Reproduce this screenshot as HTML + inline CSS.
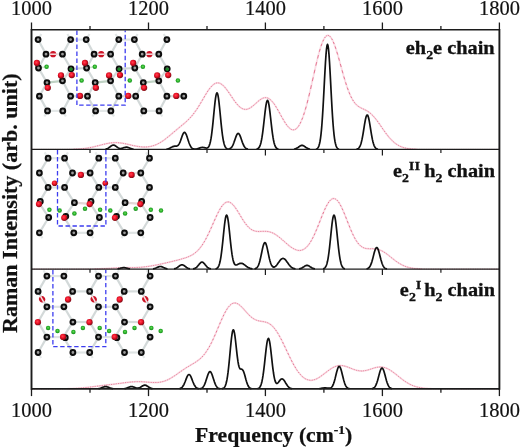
<!DOCTYPE html>
<html><head><meta charset="utf-8"><title>Raman spectra</title>
<style>html,body{margin:0;padding:0;background:#fff}svg{display:block}</style></head>
<body>
<svg width="520" height="448" viewBox="0 0 520 448">
<defs><radialGradient id="gO" cx="0.42" cy="0.4" r="0.6"><stop offset="0" stop-color="#ff4454"/><stop offset="0.5" stop-color="#ee1226"/><stop offset="1" stop-color="#7e0a16"/></radialGradient><radialGradient id="gH" cx="0.5" cy="0.45" r="0.55"><stop offset="0" stop-color="#6fdc5f"/><stop offset="0.5" stop-color="#2cb52c"/><stop offset="1" stop-color="#178a1c"/></radialGradient><filter id="bl" x="-5%" y="-5%" width="110%" height="110%"><feGaussianBlur stdDeviation="0.4"/></filter><clipPath id="c1"><rect x="33" y="31" width="160" height="88"/></clipPath><clipPath id="c2"><rect x="33" y="150" width="140" height="91"/></clipPath><clipPath id="c3"><rect x="33" y="270" width="140" height="91"/></clipPath></defs>
<rect width="520" height="448" fill="#fff"/>
<g clip-path="url(#c1)" filter="url(#bl)">
<line x1="166.9" y1="96.2" x2="183.8" y2="96.2" stroke="#d3d9d9" stroke-width="2.2"/>
<line x1="38.1" y1="39.6" x2="46.0" y2="54.2" stroke="#d3d9d9" stroke-width="2.2"/>
<line x1="70.6" y1="39.6" x2="62.5" y2="54.2" stroke="#d3d9d9" stroke-width="2.2"/>
<line x1="46.0" y1="54.2" x2="38.5" y2="68.0" stroke="#d3d9d9" stroke-width="2.2"/>
<line x1="62.5" y1="54.2" x2="71.0" y2="68.8" stroke="#d3d9d9" stroke-width="2.2"/>
<line x1="38.5" y1="68.0" x2="47.0" y2="82.6" stroke="#d3d9d9" stroke-width="2.2"/>
<line x1="71.0" y1="68.8" x2="62.5" y2="80.8" stroke="#d3d9d9" stroke-width="2.2"/>
<line x1="47.0" y1="82.6" x2="62.5" y2="80.8" stroke="#bfd2c4" stroke-width="2.2"/>
<line x1="47.0" y1="82.6" x2="39.4" y2="96.2" stroke="#d3d9d9" stroke-width="2.2"/>
<line x1="62.5" y1="80.8" x2="70.6" y2="96.2" stroke="#d3d9d9" stroke-width="2.2"/>
<line x1="39.4" y1="96.2" x2="47.5" y2="110.9" stroke="#d3d9d9" stroke-width="2.2"/>
<line x1="70.6" y1="96.2" x2="62.8" y2="110.9" stroke="#d3d9d9" stroke-width="2.2"/>
<line x1="47.5" y1="110.9" x2="62.8" y2="110.9" stroke="#e4e8e8" stroke-width="2.2"/>
<line x1="70.6" y1="39.6" x2="86.2" y2="39.6" stroke="#e0e5e5" stroke-width="2.2"/>
<line x1="71.0" y1="68.8" x2="86.6" y2="68.0" stroke="#cfd6d6" stroke-width="2.2"/>
<line x1="70.6" y1="96.2" x2="87.5" y2="96.2" stroke="#d3d9d9" stroke-width="2.2"/>
<line x1="38.1" y1="39.6" x2="41.3" y2="34.0" stroke="#e3e7e7" stroke-width="2.2"/>
<line x1="70.6" y1="39.6" x2="67.4" y2="34.0" stroke="#e3e7e7" stroke-width="2.2"/>
<line x1="47.5" y1="110.9" x2="44.4" y2="116.5" stroke="#e3e7e7" stroke-width="2.2"/>
<line x1="62.8" y1="110.9" x2="65.9" y2="116.5" stroke="#e3e7e7" stroke-width="2.2"/>
<line x1="46.0" y1="54.2" x2="62.5" y2="54.2" stroke="#e6e0e0" stroke-width="2.2"/>
<line x1="38.5" y1="68.0" x2="46.6" y2="66.8" stroke="#cfe3cf" stroke-width="1.4"/>
<line x1="86.2" y1="39.6" x2="94.1" y2="54.2" stroke="#d3d9d9" stroke-width="2.2"/>
<line x1="118.8" y1="39.6" x2="110.6" y2="54.2" stroke="#d3d9d9" stroke-width="2.2"/>
<line x1="94.1" y1="54.2" x2="86.6" y2="68.0" stroke="#d3d9d9" stroke-width="2.2"/>
<line x1="110.6" y1="54.2" x2="119.1" y2="68.8" stroke="#d3d9d9" stroke-width="2.2"/>
<line x1="86.6" y1="68.0" x2="95.2" y2="82.6" stroke="#d3d9d9" stroke-width="2.2"/>
<line x1="119.1" y1="68.8" x2="110.6" y2="80.8" stroke="#d3d9d9" stroke-width="2.2"/>
<line x1="95.2" y1="82.6" x2="110.6" y2="80.8" stroke="#bfd2c4" stroke-width="2.2"/>
<line x1="95.2" y1="82.6" x2="87.5" y2="96.2" stroke="#d3d9d9" stroke-width="2.2"/>
<line x1="110.6" y1="80.8" x2="118.8" y2="96.2" stroke="#d3d9d9" stroke-width="2.2"/>
<line x1="87.5" y1="96.2" x2="95.6" y2="110.9" stroke="#d3d9d9" stroke-width="2.2"/>
<line x1="118.8" y1="96.2" x2="110.9" y2="110.9" stroke="#d3d9d9" stroke-width="2.2"/>
<line x1="95.6" y1="110.9" x2="110.9" y2="110.9" stroke="#e4e8e8" stroke-width="2.2"/>
<line x1="118.8" y1="39.6" x2="134.4" y2="39.6" stroke="#e0e5e5" stroke-width="2.2"/>
<line x1="119.1" y1="68.8" x2="134.8" y2="68.0" stroke="#cfd6d6" stroke-width="2.2"/>
<line x1="118.8" y1="96.2" x2="135.7" y2="96.2" stroke="#d3d9d9" stroke-width="2.2"/>
<line x1="86.2" y1="39.6" x2="89.5" y2="34.0" stroke="#e3e7e7" stroke-width="2.2"/>
<line x1="118.8" y1="39.6" x2="115.5" y2="34.0" stroke="#e3e7e7" stroke-width="2.2"/>
<line x1="95.6" y1="110.9" x2="92.5" y2="116.5" stroke="#e3e7e7" stroke-width="2.2"/>
<line x1="110.9" y1="110.9" x2="114.0" y2="116.5" stroke="#e3e7e7" stroke-width="2.2"/>
<line x1="94.1" y1="54.2" x2="110.6" y2="54.2" stroke="#e6e0e0" stroke-width="2.2"/>
<line x1="86.6" y1="68.0" x2="94.8" y2="66.8" stroke="#cfe3cf" stroke-width="1.4"/>
<line x1="134.4" y1="39.6" x2="142.2" y2="54.2" stroke="#d3d9d9" stroke-width="2.2"/>
<line x1="166.9" y1="39.6" x2="158.8" y2="54.2" stroke="#d3d9d9" stroke-width="2.2"/>
<line x1="142.2" y1="54.2" x2="134.8" y2="68.0" stroke="#d3d9d9" stroke-width="2.2"/>
<line x1="158.8" y1="54.2" x2="167.2" y2="68.8" stroke="#d3d9d9" stroke-width="2.2"/>
<line x1="134.8" y1="68.0" x2="143.3" y2="82.6" stroke="#d3d9d9" stroke-width="2.2"/>
<line x1="167.2" y1="68.8" x2="158.8" y2="80.8" stroke="#d3d9d9" stroke-width="2.2"/>
<line x1="143.3" y1="82.6" x2="158.8" y2="80.8" stroke="#bfd2c4" stroke-width="2.2"/>
<line x1="143.3" y1="82.6" x2="135.7" y2="96.2" stroke="#d3d9d9" stroke-width="2.2"/>
<line x1="158.8" y1="80.8" x2="166.9" y2="96.2" stroke="#d3d9d9" stroke-width="2.2"/>
<line x1="135.7" y1="96.2" x2="143.8" y2="110.9" stroke="#d3d9d9" stroke-width="2.2"/>
<line x1="166.9" y1="96.2" x2="159.1" y2="110.9" stroke="#d3d9d9" stroke-width="2.2"/>
<line x1="143.8" y1="110.9" x2="159.1" y2="110.9" stroke="#e4e8e8" stroke-width="2.2"/>
<line x1="134.4" y1="39.6" x2="137.6" y2="34.0" stroke="#e3e7e7" stroke-width="2.2"/>
<line x1="166.9" y1="39.6" x2="163.7" y2="34.0" stroke="#e3e7e7" stroke-width="2.2"/>
<line x1="143.8" y1="110.9" x2="140.7" y2="116.5" stroke="#e3e7e7" stroke-width="2.2"/>
<line x1="159.1" y1="110.9" x2="162.2" y2="116.5" stroke="#e3e7e7" stroke-width="2.2"/>
<line x1="142.2" y1="54.2" x2="158.8" y2="54.2" stroke="#e6e0e0" stroke-width="2.2"/>
<line x1="134.8" y1="68.0" x2="142.9" y2="66.8" stroke="#cfe3cf" stroke-width="1.4"/>
<circle cx="183.8" cy="96.2" r="2.4" fill="#9a9a9a" stroke="#0c0c0c" stroke-width="2.0"/>
<circle cx="176.3" cy="95.9" r="3.15" fill="url(#gO)"/>
<circle cx="177.9" cy="80.6" r="2.25" fill="url(#gH)"/>
<circle cx="38.1" cy="39.6" r="2.4" fill="#9a9a9a" stroke="#0c0c0c" stroke-width="2.0"/>
<circle cx="70.6" cy="39.6" r="2.4" fill="#9a9a9a" stroke="#0c0c0c" stroke-width="2.0"/>
<circle cx="46.0" cy="54.2" r="2.4" fill="#9a9a9a" stroke="#0c0c0c" stroke-width="2.0"/>
<circle cx="62.5" cy="54.2" r="2.4" fill="#9a9a9a" stroke="#0c0c0c" stroke-width="2.0"/>
<circle cx="38.5" cy="68.0" r="2.4" fill="#9a9a9a" stroke="#0c0c0c" stroke-width="2.0"/>
<circle cx="71.0" cy="68.8" r="2.4" fill="#9a9a9a" stroke="#0c0c0c" stroke-width="2.0"/>
<circle cx="47.0" cy="82.6" r="2.4" fill="#9a9a9a" stroke="#0c0c0c" stroke-width="2.0"/>
<circle cx="62.5" cy="80.8" r="2.4" fill="#9a9a9a" stroke="#0c0c0c" stroke-width="2.0"/>
<circle cx="39.4" cy="96.2" r="2.4" fill="#9a9a9a" stroke="#0c0c0c" stroke-width="2.0"/>
<circle cx="70.6" cy="96.2" r="2.4" fill="#9a9a9a" stroke="#0c0c0c" stroke-width="2.0"/>
<circle cx="47.5" cy="110.9" r="2.4" fill="#9a9a9a" stroke="#0c0c0c" stroke-width="2.0"/>
<circle cx="62.8" cy="110.9" r="2.4" fill="#9a9a9a" stroke="#0c0c0c" stroke-width="2.0"/>
<circle cx="71.0" cy="69.2" r="1.7" fill="#1f8a2a"/>
<g transform="translate(53.1 54.2) rotate(0)"><circle r="3.1" fill="#cc1226"/><rect x="-3.4" y="-0.75" width="6.8" height="1.5" fill="#f6dfe1"/></g>
<circle cx="36.9" cy="63.0" r="3.15" fill="url(#gO)"/>
<circle cx="61.0" cy="75.4" r="3.15" fill="url(#gO)"/>
<circle cx="71.8" cy="75.1" r="3.15" fill="url(#gO)"/>
<circle cx="47.8" cy="87.8" r="3.15" fill="url(#gO)"/>
<circle cx="46.6" cy="66.8" r="2.25" fill="url(#gH)"/>
<circle cx="86.2" cy="39.6" r="2.4" fill="#9a9a9a" stroke="#0c0c0c" stroke-width="2.0"/>
<circle cx="118.8" cy="39.6" r="2.4" fill="#9a9a9a" stroke="#0c0c0c" stroke-width="2.0"/>
<circle cx="94.1" cy="54.2" r="2.4" fill="#9a9a9a" stroke="#0c0c0c" stroke-width="2.0"/>
<circle cx="110.6" cy="54.2" r="2.4" fill="#9a9a9a" stroke="#0c0c0c" stroke-width="2.0"/>
<circle cx="86.6" cy="68.0" r="2.4" fill="#9a9a9a" stroke="#0c0c0c" stroke-width="2.0"/>
<circle cx="119.1" cy="68.8" r="2.4" fill="#9a9a9a" stroke="#0c0c0c" stroke-width="2.0"/>
<circle cx="95.2" cy="82.6" r="2.4" fill="#9a9a9a" stroke="#0c0c0c" stroke-width="2.0"/>
<circle cx="110.6" cy="80.8" r="2.4" fill="#9a9a9a" stroke="#0c0c0c" stroke-width="2.0"/>
<circle cx="87.5" cy="96.2" r="2.4" fill="#9a9a9a" stroke="#0c0c0c" stroke-width="2.0"/>
<circle cx="118.8" cy="96.2" r="2.4" fill="#9a9a9a" stroke="#0c0c0c" stroke-width="2.0"/>
<circle cx="95.6" cy="110.9" r="2.4" fill="#9a9a9a" stroke="#0c0c0c" stroke-width="2.0"/>
<circle cx="110.9" cy="110.9" r="2.4" fill="#9a9a9a" stroke="#0c0c0c" stroke-width="2.0"/>
<circle cx="119.1" cy="69.2" r="1.7" fill="#1f8a2a"/>
<g transform="translate(101.2 54.2) rotate(0)"><circle r="3.1" fill="#cc1226"/><rect x="-3.4" y="-0.75" width="6.8" height="1.5" fill="#f6dfe1"/></g>
<circle cx="85.0" cy="63.0" r="3.15" fill="url(#gO)"/>
<circle cx="109.1" cy="75.4" r="3.15" fill="url(#gO)"/>
<circle cx="120.0" cy="75.1" r="3.15" fill="url(#gO)"/>
<circle cx="95.9" cy="87.8" r="3.15" fill="url(#gO)"/>
<circle cx="80.0" cy="95.9" r="3.15" fill="url(#gO)"/>
<circle cx="94.8" cy="66.8" r="2.25" fill="url(#gH)"/>
<circle cx="81.6" cy="80.6" r="2.25" fill="url(#gH)"/>
<circle cx="134.4" cy="39.6" r="2.4" fill="#9a9a9a" stroke="#0c0c0c" stroke-width="2.0"/>
<circle cx="166.9" cy="39.6" r="2.4" fill="#9a9a9a" stroke="#0c0c0c" stroke-width="2.0"/>
<circle cx="142.2" cy="54.2" r="2.4" fill="#9a9a9a" stroke="#0c0c0c" stroke-width="2.0"/>
<circle cx="158.8" cy="54.2" r="2.4" fill="#9a9a9a" stroke="#0c0c0c" stroke-width="2.0"/>
<circle cx="134.8" cy="68.0" r="2.4" fill="#9a9a9a" stroke="#0c0c0c" stroke-width="2.0"/>
<circle cx="167.2" cy="68.8" r="2.4" fill="#9a9a9a" stroke="#0c0c0c" stroke-width="2.0"/>
<circle cx="143.3" cy="82.6" r="2.4" fill="#9a9a9a" stroke="#0c0c0c" stroke-width="2.0"/>
<circle cx="158.8" cy="80.8" r="2.4" fill="#9a9a9a" stroke="#0c0c0c" stroke-width="2.0"/>
<circle cx="135.7" cy="96.2" r="2.4" fill="#9a9a9a" stroke="#0c0c0c" stroke-width="2.0"/>
<circle cx="166.9" cy="96.2" r="2.4" fill="#9a9a9a" stroke="#0c0c0c" stroke-width="2.0"/>
<circle cx="143.8" cy="110.9" r="2.4" fill="#9a9a9a" stroke="#0c0c0c" stroke-width="2.0"/>
<circle cx="159.1" cy="110.9" r="2.4" fill="#9a9a9a" stroke="#0c0c0c" stroke-width="2.0"/>
<circle cx="167.2" cy="69.2" r="1.7" fill="#1f8a2a"/>
<g transform="translate(149.4 54.2) rotate(0)"><circle r="3.1" fill="#cc1226"/><rect x="-3.4" y="-0.75" width="6.8" height="1.5" fill="#f6dfe1"/></g>
<circle cx="133.2" cy="63.0" r="3.15" fill="url(#gO)"/>
<circle cx="157.2" cy="75.4" r="3.15" fill="url(#gO)"/>
<circle cx="168.2" cy="75.1" r="3.15" fill="url(#gO)"/>
<circle cx="144.1" cy="87.8" r="3.15" fill="url(#gO)"/>
<circle cx="128.2" cy="95.9" r="3.15" fill="url(#gO)"/>
<circle cx="142.9" cy="66.8" r="2.25" fill="url(#gH)"/>
<circle cx="129.8" cy="80.6" r="2.25" fill="url(#gH)"/>
</g>
<path d="M76.9 30.5V105.2H125.2V30.5" fill="none" stroke="#3d3df0" stroke-width="1.3" stroke-dasharray="4.4 2.6"/>
<g clip-path="url(#c2)" filter="url(#bl)">
<line x1="48.1" y1="158.2" x2="39.4" y2="173.0" stroke="#d3d9d9" stroke-width="2.2"/>
<line x1="64.6" y1="158.2" x2="72.5" y2="173.0" stroke="#d3d9d9" stroke-width="2.2"/>
<line x1="39.4" y1="173.0" x2="48.1" y2="187.4" stroke="#d3d9d9" stroke-width="2.2"/>
<line x1="72.5" y1="173.0" x2="64.6" y2="187.4" stroke="#d3d9d9" stroke-width="2.2"/>
<line x1="48.1" y1="158.2" x2="44.7" y2="152.4" stroke="#e6eaea" stroke-width="2.2"/>
<line x1="64.6" y1="158.2" x2="68.0" y2="152.4" stroke="#e6eaea" stroke-width="2.2"/>
<line x1="48.1" y1="158.2" x2="64.6" y2="158.2" stroke="#e3e8e8" stroke-width="2.2"/>
<line x1="48.1" y1="187.4" x2="64.6" y2="187.4" stroke="#dfe4e4" stroke-width="2.2"/>
<line x1="48.1" y1="187.4" x2="39.0" y2="202.6" stroke="#d3d9d9" stroke-width="2.2"/>
<line x1="64.6" y1="187.4" x2="74.4" y2="202.6" stroke="#d3d9d9" stroke-width="2.2"/>
<line x1="39.0" y1="202.6" x2="48.7" y2="217.5" stroke="#d3d9d9" stroke-width="2.2"/>
<line x1="74.4" y1="202.6" x2="64.3" y2="217.5" stroke="#d3d9d9" stroke-width="2.2"/>
<line x1="48.7" y1="217.5" x2="39.4" y2="232.8" stroke="#d3d9d9" stroke-width="2.2"/>
<line x1="64.3" y1="217.5" x2="73.8" y2="232.8" stroke="#d3d9d9" stroke-width="2.2"/>
<line x1="73.8" y1="232.8" x2="90.1" y2="232.8" stroke="#dfe4e4" stroke-width="2.2"/>
<line x1="39.4" y1="232.8" x2="42.4" y2="238.3" stroke="#e6eaea" stroke-width="2.2"/>
<line x1="73.8" y1="232.8" x2="70.8" y2="238.3" stroke="#e6eaea" stroke-width="2.2"/>
<line x1="74.4" y1="202.6" x2="89.7" y2="203.8" stroke="#e2d6d6" stroke-width="2.2"/>
<line x1="72.5" y1="173.0" x2="90.1" y2="173.0" stroke="#e6dede" stroke-width="2.2"/>
<line x1="98.8" y1="158.2" x2="90.1" y2="173.0" stroke="#d3d9d9" stroke-width="2.2"/>
<line x1="115.3" y1="158.2" x2="123.2" y2="173.0" stroke="#d3d9d9" stroke-width="2.2"/>
<line x1="90.1" y1="173.0" x2="98.8" y2="187.4" stroke="#d3d9d9" stroke-width="2.2"/>
<line x1="123.2" y1="173.0" x2="115.3" y2="187.4" stroke="#d3d9d9" stroke-width="2.2"/>
<line x1="98.8" y1="158.2" x2="95.4" y2="152.4" stroke="#e6eaea" stroke-width="2.2"/>
<line x1="115.3" y1="158.2" x2="118.7" y2="152.4" stroke="#e6eaea" stroke-width="2.2"/>
<line x1="98.8" y1="158.2" x2="115.3" y2="158.2" stroke="#e3e8e8" stroke-width="2.2"/>
<line x1="98.8" y1="187.4" x2="115.3" y2="187.4" stroke="#dfe4e4" stroke-width="2.2"/>
<line x1="98.8" y1="187.4" x2="89.7" y2="202.6" stroke="#d3d9d9" stroke-width="2.2"/>
<line x1="115.3" y1="187.4" x2="125.1" y2="202.6" stroke="#d3d9d9" stroke-width="2.2"/>
<line x1="89.7" y1="202.6" x2="99.4" y2="217.5" stroke="#d3d9d9" stroke-width="2.2"/>
<line x1="125.1" y1="202.6" x2="115.0" y2="217.5" stroke="#d3d9d9" stroke-width="2.2"/>
<line x1="99.4" y1="217.5" x2="90.1" y2="232.8" stroke="#d3d9d9" stroke-width="2.2"/>
<line x1="115.0" y1="217.5" x2="124.5" y2="232.8" stroke="#d3d9d9" stroke-width="2.2"/>
<line x1="124.5" y1="232.8" x2="140.8" y2="232.8" stroke="#dfe4e4" stroke-width="2.2"/>
<line x1="90.1" y1="232.8" x2="93.1" y2="238.3" stroke="#e6eaea" stroke-width="2.2"/>
<line x1="124.5" y1="232.8" x2="121.5" y2="238.3" stroke="#e6eaea" stroke-width="2.2"/>
<line x1="125.1" y1="202.6" x2="140.4" y2="203.8" stroke="#e2d6d6" stroke-width="2.2"/>
<line x1="123.2" y1="173.0" x2="140.8" y2="173.0" stroke="#e6dede" stroke-width="2.2"/>
<line x1="149.5" y1="158.2" x2="140.8" y2="173.0" stroke="#d3d9d9" stroke-width="2.2"/>
<line x1="140.8" y1="173.0" x2="149.5" y2="187.4" stroke="#d3d9d9" stroke-width="2.2"/>
<line x1="149.5" y1="158.2" x2="146.1" y2="152.4" stroke="#e6eaea" stroke-width="2.2"/>
<line x1="149.5" y1="187.4" x2="140.4" y2="202.6" stroke="#d3d9d9" stroke-width="2.2"/>
<line x1="140.4" y1="202.6" x2="150.1" y2="217.5" stroke="#d3d9d9" stroke-width="2.2"/>
<line x1="150.1" y1="217.5" x2="140.8" y2="232.8" stroke="#d3d9d9" stroke-width="2.2"/>
<line x1="140.8" y1="232.8" x2="143.8" y2="238.3" stroke="#e6eaea" stroke-width="2.2"/>
<circle cx="54.6" cy="183.2" r="2.80" fill="url(#gO)"/>
<circle cx="48.1" cy="158.2" r="2.4" fill="#9a9a9a" stroke="#0c0c0c" stroke-width="2.0"/>
<circle cx="64.6" cy="158.2" r="2.4" fill="#9a9a9a" stroke="#0c0c0c" stroke-width="2.0"/>
<circle cx="39.4" cy="173.0" r="2.4" fill="#9a9a9a" stroke="#0c0c0c" stroke-width="2.0"/>
<circle cx="72.5" cy="173.0" r="2.4" fill="#9a9a9a" stroke="#0c0c0c" stroke-width="2.0"/>
<circle cx="48.1" cy="187.4" r="2.4" fill="#9a9a9a" stroke="#0c0c0c" stroke-width="2.0"/>
<circle cx="64.6" cy="187.4" r="2.4" fill="#9a9a9a" stroke="#0c0c0c" stroke-width="2.0"/>
<circle cx="74.4" cy="202.7" r="2.4" fill="#9a9a9a" stroke="#0c0c0c" stroke-width="2.0"/>
<circle cx="48.7" cy="217.5" r="2.4" fill="#9a9a9a" stroke="#0c0c0c" stroke-width="2.0"/>
<circle cx="39.4" cy="232.8" r="2.4" fill="#9a9a9a" stroke="#0c0c0c" stroke-width="2.0"/>
<circle cx="73.8" cy="232.8" r="2.4" fill="#9a9a9a" stroke="#0c0c0c" stroke-width="2.0"/>
<circle cx="40.3" cy="201.4" r="2.4" fill="#9a9a9a" stroke="#0c0c0c" stroke-width="2.0"/>
<circle cx="65.8" cy="216.3" r="2.4" fill="#9a9a9a" stroke="#0c0c0c" stroke-width="2.0"/>
<circle cx="80.9" cy="174.9" r="3.15" fill="url(#gO)"/>
<circle cx="39.0" cy="204.1" r="3.15" fill="url(#gO)"/>
<circle cx="64.3" cy="217.8" r="3.15" fill="url(#gO)"/>
<circle cx="49.4" cy="209.8" r="2.25" fill="url(#gH)"/>
<circle cx="59.6" cy="210.6" r="2.25" fill="url(#gH)"/>
<circle cx="74.4" cy="213.5" r="2.25" fill="url(#gH)"/>
<circle cx="85.0" cy="208.8" r="2.25" fill="url(#gH)"/>
<circle cx="105.3" cy="183.2" r="2.80" fill="url(#gO)"/>
<circle cx="98.8" cy="158.2" r="2.4" fill="#9a9a9a" stroke="#0c0c0c" stroke-width="2.0"/>
<circle cx="115.3" cy="158.2" r="2.4" fill="#9a9a9a" stroke="#0c0c0c" stroke-width="2.0"/>
<circle cx="90.1" cy="173.0" r="2.4" fill="#9a9a9a" stroke="#0c0c0c" stroke-width="2.0"/>
<circle cx="123.2" cy="173.0" r="2.4" fill="#9a9a9a" stroke="#0c0c0c" stroke-width="2.0"/>
<circle cx="98.8" cy="187.4" r="2.4" fill="#9a9a9a" stroke="#0c0c0c" stroke-width="2.0"/>
<circle cx="115.3" cy="187.4" r="2.4" fill="#9a9a9a" stroke="#0c0c0c" stroke-width="2.0"/>
<circle cx="125.1" cy="202.7" r="2.4" fill="#9a9a9a" stroke="#0c0c0c" stroke-width="2.0"/>
<circle cx="99.4" cy="217.5" r="2.4" fill="#9a9a9a" stroke="#0c0c0c" stroke-width="2.0"/>
<circle cx="90.1" cy="232.8" r="2.4" fill="#9a9a9a" stroke="#0c0c0c" stroke-width="2.0"/>
<circle cx="124.5" cy="232.8" r="2.4" fill="#9a9a9a" stroke="#0c0c0c" stroke-width="2.0"/>
<circle cx="91.0" cy="201.4" r="2.4" fill="#9a9a9a" stroke="#0c0c0c" stroke-width="2.0"/>
<circle cx="116.5" cy="216.3" r="2.4" fill="#9a9a9a" stroke="#0c0c0c" stroke-width="2.0"/>
<circle cx="131.6" cy="174.9" r="3.15" fill="url(#gO)"/>
<circle cx="89.7" cy="204.1" r="3.15" fill="url(#gO)"/>
<circle cx="115.0" cy="217.8" r="3.15" fill="url(#gO)"/>
<circle cx="100.1" cy="209.8" r="2.25" fill="url(#gH)"/>
<circle cx="110.3" cy="210.6" r="2.25" fill="url(#gH)"/>
<circle cx="125.1" cy="213.5" r="2.25" fill="url(#gH)"/>
<circle cx="135.7" cy="208.8" r="2.25" fill="url(#gH)"/>
<circle cx="149.5" cy="158.2" r="2.4" fill="#9a9a9a" stroke="#0c0c0c" stroke-width="2.0"/>
<circle cx="140.8" cy="173.0" r="2.4" fill="#9a9a9a" stroke="#0c0c0c" stroke-width="2.0"/>
<circle cx="149.5" cy="187.4" r="2.4" fill="#9a9a9a" stroke="#0c0c0c" stroke-width="2.0"/>
<circle cx="150.1" cy="217.5" r="2.4" fill="#9a9a9a" stroke="#0c0c0c" stroke-width="2.0"/>
<circle cx="140.8" cy="232.8" r="2.4" fill="#9a9a9a" stroke="#0c0c0c" stroke-width="2.0"/>
<circle cx="141.7" cy="201.4" r="2.4" fill="#9a9a9a" stroke="#0c0c0c" stroke-width="2.0"/>
<circle cx="140.4" cy="204.1" r="3.15" fill="url(#gO)"/>
<circle cx="150.8" cy="209.8" r="2.25" fill="url(#gH)"/>
<circle cx="161.0" cy="210.6" r="2.25" fill="url(#gH)"/>
</g>
<path d="M57.5 150.0V226.0H105.9V150.0" fill="none" stroke="#3d3df0" stroke-width="1.3" stroke-dasharray="4.4 2.6"/>
<g clip-path="url(#c3)" filter="url(#bl)">
<line x1="46.9" y1="276.1" x2="38.1" y2="291.4" stroke="#d3d9d9" stroke-width="2.2"/>
<line x1="63.9" y1="276.1" x2="72.6" y2="291.4" stroke="#d3d9d9" stroke-width="2.2"/>
<line x1="38.1" y1="291.4" x2="46.9" y2="306.8" stroke="#d3d9d9" stroke-width="2.2"/>
<line x1="72.6" y1="291.4" x2="63.9" y2="306.8" stroke="#d3d9d9" stroke-width="2.2"/>
<line x1="46.9" y1="276.1" x2="43.5" y2="270.3" stroke="#e6eaea" stroke-width="2.2"/>
<line x1="63.9" y1="276.1" x2="67.3" y2="270.3" stroke="#e6eaea" stroke-width="2.2"/>
<line x1="46.9" y1="276.1" x2="63.9" y2="276.1" stroke="#dfe4e4" stroke-width="2.2"/>
<line x1="46.9" y1="306.8" x2="63.9" y2="306.8" stroke="#dfe4e4" stroke-width="2.2"/>
<line x1="46.9" y1="337.1" x2="63.9" y2="337.1" stroke="#dfe4e4" stroke-width="2.2"/>
<line x1="72.6" y1="291.4" x2="89.7" y2="291.4" stroke="#d6dcdc" stroke-width="2.2"/>
<line x1="46.9" y1="306.8" x2="38.1" y2="321.9" stroke="#d3d9d9" stroke-width="2.2"/>
<line x1="63.9" y1="306.8" x2="72.9" y2="321.9" stroke="#d3d9d9" stroke-width="2.2"/>
<line x1="38.1" y1="321.9" x2="46.9" y2="337.1" stroke="#d3d9d9" stroke-width="2.2"/>
<line x1="72.9" y1="321.9" x2="63.3" y2="337.1" stroke="#d3d9d9" stroke-width="2.2"/>
<line x1="46.9" y1="337.1" x2="38.1" y2="352.5" stroke="#d3d9d9" stroke-width="2.2"/>
<line x1="63.3" y1="337.1" x2="72.9" y2="352.5" stroke="#d3d9d9" stroke-width="2.2"/>
<line x1="72.9" y1="352.5" x2="89.7" y2="352.5" stroke="#dfe4e4" stroke-width="2.2"/>
<line x1="72.9" y1="321.9" x2="89.7" y2="322.2" stroke="#d6dcdc" stroke-width="2.2"/>
<line x1="38.1" y1="352.5" x2="41.1" y2="358.0" stroke="#e6eaea" stroke-width="2.2"/>
<line x1="72.9" y1="352.5" x2="69.9" y2="358.0" stroke="#e6eaea" stroke-width="2.2"/>
<line x1="98.5" y1="276.1" x2="89.7" y2="291.4" stroke="#d3d9d9" stroke-width="2.2"/>
<line x1="115.5" y1="276.1" x2="124.2" y2="291.4" stroke="#d3d9d9" stroke-width="2.2"/>
<line x1="89.7" y1="291.4" x2="98.5" y2="306.8" stroke="#d3d9d9" stroke-width="2.2"/>
<line x1="124.2" y1="291.4" x2="115.5" y2="306.8" stroke="#d3d9d9" stroke-width="2.2"/>
<line x1="98.5" y1="276.1" x2="95.1" y2="270.3" stroke="#e6eaea" stroke-width="2.2"/>
<line x1="115.5" y1="276.1" x2="118.9" y2="270.3" stroke="#e6eaea" stroke-width="2.2"/>
<line x1="98.5" y1="276.1" x2="115.5" y2="276.1" stroke="#dfe4e4" stroke-width="2.2"/>
<line x1="98.5" y1="306.8" x2="115.5" y2="306.8" stroke="#dfe4e4" stroke-width="2.2"/>
<line x1="98.5" y1="337.1" x2="115.5" y2="337.1" stroke="#dfe4e4" stroke-width="2.2"/>
<line x1="124.2" y1="291.4" x2="141.3" y2="291.4" stroke="#d6dcdc" stroke-width="2.2"/>
<line x1="98.5" y1="306.8" x2="89.7" y2="321.9" stroke="#d3d9d9" stroke-width="2.2"/>
<line x1="115.5" y1="306.8" x2="124.5" y2="321.9" stroke="#d3d9d9" stroke-width="2.2"/>
<line x1="89.7" y1="321.9" x2="98.5" y2="337.1" stroke="#d3d9d9" stroke-width="2.2"/>
<line x1="124.5" y1="321.9" x2="114.9" y2="337.1" stroke="#d3d9d9" stroke-width="2.2"/>
<line x1="98.5" y1="337.1" x2="89.7" y2="352.5" stroke="#d3d9d9" stroke-width="2.2"/>
<line x1="114.9" y1="337.1" x2="124.5" y2="352.5" stroke="#d3d9d9" stroke-width="2.2"/>
<line x1="124.5" y1="352.5" x2="141.3" y2="352.5" stroke="#dfe4e4" stroke-width="2.2"/>
<line x1="124.5" y1="321.9" x2="141.3" y2="322.2" stroke="#d6dcdc" stroke-width="2.2"/>
<line x1="89.7" y1="352.5" x2="92.7" y2="358.0" stroke="#e6eaea" stroke-width="2.2"/>
<line x1="124.5" y1="352.5" x2="121.5" y2="358.0" stroke="#e6eaea" stroke-width="2.2"/>
<line x1="150.1" y1="276.1" x2="141.3" y2="291.4" stroke="#d3d9d9" stroke-width="2.2"/>
<line x1="141.3" y1="291.4" x2="150.1" y2="306.8" stroke="#d3d9d9" stroke-width="2.2"/>
<line x1="150.1" y1="276.1" x2="146.7" y2="270.3" stroke="#e6eaea" stroke-width="2.2"/>
<line x1="150.1" y1="306.8" x2="141.3" y2="321.9" stroke="#d3d9d9" stroke-width="2.2"/>
<line x1="141.3" y1="321.9" x2="150.1" y2="337.1" stroke="#d3d9d9" stroke-width="2.2"/>
<line x1="150.1" y1="337.1" x2="141.3" y2="352.5" stroke="#d3d9d9" stroke-width="2.2"/>
<line x1="141.3" y1="352.5" x2="144.3" y2="358.0" stroke="#e6eaea" stroke-width="2.2"/>
<circle cx="46.9" cy="276.1" r="2.4" fill="#9a9a9a" stroke="#0c0c0c" stroke-width="2.0"/>
<circle cx="63.9" cy="276.1" r="2.4" fill="#9a9a9a" stroke="#0c0c0c" stroke-width="2.0"/>
<circle cx="38.1" cy="291.4" r="2.4" fill="#9a9a9a" stroke="#0c0c0c" stroke-width="2.0"/>
<circle cx="72.6" cy="291.4" r="2.4" fill="#9a9a9a" stroke="#0c0c0c" stroke-width="2.0"/>
<circle cx="46.9" cy="306.8" r="2.4" fill="#9a9a9a" stroke="#0c0c0c" stroke-width="2.0"/>
<circle cx="63.9" cy="306.8" r="2.4" fill="#9a9a9a" stroke="#0c0c0c" stroke-width="2.0"/>
<circle cx="72.9" cy="322.1" r="2.4" fill="#9a9a9a" stroke="#0c0c0c" stroke-width="2.0"/>
<circle cx="46.9" cy="337.1" r="2.4" fill="#9a9a9a" stroke="#0c0c0c" stroke-width="2.0"/>
<circle cx="38.1" cy="352.5" r="2.4" fill="#9a9a9a" stroke="#0c0c0c" stroke-width="2.0"/>
<circle cx="72.9" cy="352.5" r="2.4" fill="#9a9a9a" stroke="#0c0c0c" stroke-width="2.0"/>
<circle cx="65.3" cy="337.7" r="2.4" fill="#9a9a9a" stroke="#0c0c0c" stroke-width="2.0"/>
<g transform="translate(42.1 299.2) rotate(61)"><circle r="3.1" fill="#cc1226"/><rect x="-3.4" y="-0.75" width="6.8" height="1.5" fill="#f6dfe1"/></g>
<circle cx="68.1" cy="299.5" r="3.15" fill="url(#gO)"/>
<circle cx="37.9" cy="322.2" r="3.15" fill="url(#gO)"/>
<circle cx="63.1" cy="336.9" r="3.15" fill="url(#gO)"/>
<circle cx="48.1" cy="327.9" r="2.25" fill="url(#gH)"/>
<circle cx="57.5" cy="331.0" r="2.25" fill="url(#gH)"/>
<circle cx="73.4" cy="331.9" r="2.25" fill="url(#gH)"/>
<circle cx="82.9" cy="327.9" r="2.25" fill="url(#gH)"/>
<circle cx="98.5" cy="276.1" r="2.4" fill="#9a9a9a" stroke="#0c0c0c" stroke-width="2.0"/>
<circle cx="115.5" cy="276.1" r="2.4" fill="#9a9a9a" stroke="#0c0c0c" stroke-width="2.0"/>
<circle cx="89.7" cy="291.4" r="2.4" fill="#9a9a9a" stroke="#0c0c0c" stroke-width="2.0"/>
<circle cx="124.2" cy="291.4" r="2.4" fill="#9a9a9a" stroke="#0c0c0c" stroke-width="2.0"/>
<circle cx="98.5" cy="306.8" r="2.4" fill="#9a9a9a" stroke="#0c0c0c" stroke-width="2.0"/>
<circle cx="115.5" cy="306.8" r="2.4" fill="#9a9a9a" stroke="#0c0c0c" stroke-width="2.0"/>
<circle cx="124.5" cy="322.1" r="2.4" fill="#9a9a9a" stroke="#0c0c0c" stroke-width="2.0"/>
<circle cx="98.5" cy="337.1" r="2.4" fill="#9a9a9a" stroke="#0c0c0c" stroke-width="2.0"/>
<circle cx="89.7" cy="352.5" r="2.4" fill="#9a9a9a" stroke="#0c0c0c" stroke-width="2.0"/>
<circle cx="124.5" cy="352.5" r="2.4" fill="#9a9a9a" stroke="#0c0c0c" stroke-width="2.0"/>
<circle cx="116.9" cy="337.7" r="2.4" fill="#9a9a9a" stroke="#0c0c0c" stroke-width="2.0"/>
<g transform="translate(93.7 299.2) rotate(61)"><circle r="3.1" fill="#cc1226"/><rect x="-3.4" y="-0.75" width="6.8" height="1.5" fill="#f6dfe1"/></g>
<circle cx="119.7" cy="299.5" r="3.15" fill="url(#gO)"/>
<circle cx="89.5" cy="322.2" r="3.15" fill="url(#gO)"/>
<circle cx="114.7" cy="336.9" r="3.15" fill="url(#gO)"/>
<circle cx="99.7" cy="327.9" r="2.25" fill="url(#gH)"/>
<circle cx="109.1" cy="331.0" r="2.25" fill="url(#gH)"/>
<circle cx="125.0" cy="331.9" r="2.25" fill="url(#gH)"/>
<circle cx="134.5" cy="327.9" r="2.25" fill="url(#gH)"/>
<circle cx="150.1" cy="276.1" r="2.4" fill="#9a9a9a" stroke="#0c0c0c" stroke-width="2.0"/>
<circle cx="141.3" cy="291.4" r="2.4" fill="#9a9a9a" stroke="#0c0c0c" stroke-width="2.0"/>
<circle cx="150.1" cy="306.8" r="2.4" fill="#9a9a9a" stroke="#0c0c0c" stroke-width="2.0"/>
<circle cx="150.1" cy="337.1" r="2.4" fill="#9a9a9a" stroke="#0c0c0c" stroke-width="2.0"/>
<circle cx="141.3" cy="352.5" r="2.4" fill="#9a9a9a" stroke="#0c0c0c" stroke-width="2.0"/>
<g transform="translate(145.3 299.2) rotate(61)"><circle r="3.1" fill="#cc1226"/><rect x="-3.4" y="-0.75" width="6.8" height="1.5" fill="#f6dfe1"/></g>
<circle cx="141.1" cy="322.2" r="3.15" fill="url(#gO)"/>
<circle cx="151.3" cy="327.9" r="2.25" fill="url(#gH)"/>
<circle cx="160.7" cy="331.0" r="2.25" fill="url(#gH)"/>
</g>
<path d="M52.9 270.0V346.7H105.8V270.0" fill="none" stroke="#3d3df0" stroke-width="1.3" stroke-dasharray="4.4 2.6"/>
<polyline points="73.5,149.2 74.5,149.2 75.5,149.2 76.5,149.1 77.5,149.1 78.5,149.0 79.5,148.9 80.5,148.9 81.5,148.8 82.5,148.7 83.5,148.6 84.5,148.5 85.5,148.3 86.5,148.2 87.5,148.0 88.5,147.9 89.5,147.7 90.5,147.5 91.5,147.3 92.5,147.1 93.5,146.9 94.5,146.6 95.5,146.4 96.5,146.2 97.5,145.9 98.5,145.6 99.5,145.4 100.5,145.1 101.5,144.9 102.5,144.6 103.5,144.3 104.5,144.1 105.5,143.9 106.5,143.7 107.5,143.5 108.5,143.3 109.5,143.1 110.5,143.0 111.5,142.9 112.5,142.8 113.5,142.7 114.5,142.7 115.5,142.6 116.5,142.7 117.5,142.7 118.5,142.8 119.5,142.8 120.5,142.9 121.5,143.1 122.5,143.2 123.5,143.4 124.5,143.6 125.5,143.8 126.5,144.0 127.5,144.2 128.5,144.4 129.5,144.7 130.5,144.9 131.5,145.1 132.5,145.4 133.5,145.6 134.5,145.8 135.5,146.0 136.5,146.2 137.5,146.4 138.5,146.5 139.5,146.7 140.5,146.8 141.5,146.9 142.5,147.0 143.5,147.0 144.5,147.0 145.5,147.0 146.5,147.0 147.5,146.9 148.5,146.8 149.5,146.6 150.5,146.4 151.5,146.2 152.5,145.9 153.5,145.6 154.5,145.3 155.5,144.9 156.5,144.5 157.5,144.0 158.5,143.5 159.5,143.0 160.5,142.4 161.5,141.7 162.5,141.1 163.5,140.4 164.5,139.7 165.5,138.9 166.5,138.1 167.5,137.3 168.5,136.5 169.5,135.7 170.5,134.9 171.5,134.0 172.5,133.2 173.5,132.3 174.5,131.5 175.5,130.7 176.5,129.8 177.5,129.0 178.5,128.2 179.5,127.3 180.5,126.5 181.5,125.7 182.5,124.8 183.5,124.0 184.5,123.2 185.5,122.3 186.5,121.4 187.5,120.4 188.5,119.5 189.5,118.5 190.5,117.4 191.5,116.3 192.5,115.1 193.5,113.8 194.5,112.5 195.5,111.1 196.5,109.7 197.5,108.2 198.5,106.6 199.5,105.0 200.5,103.3 201.5,101.6 202.5,99.9 203.5,98.2 204.5,96.5 205.5,94.8 206.5,93.2 207.5,91.6 208.5,90.1 209.5,88.8 210.5,87.5 211.5,86.3 212.5,85.3 213.5,84.5 214.5,83.8 215.5,83.3 216.5,83.0 217.5,82.9 218.5,82.9 219.5,83.2 220.5,83.6 221.5,84.2 222.5,85.0 223.5,85.9 224.5,86.9 225.5,88.1 226.5,89.3 227.5,90.7 228.5,92.1 229.5,93.6 230.5,95.1 231.5,96.6 232.5,98.1 233.5,99.5 234.5,101.0 235.5,102.3 236.5,103.6 237.5,104.7 238.5,105.8 239.5,106.7 240.5,107.5 241.5,108.2 242.5,108.7 243.5,109.1 244.5,109.3 245.5,109.4 246.5,109.3 247.5,109.1 248.5,108.7 249.5,108.3 250.5,107.7 251.5,107.0 252.5,106.3 253.5,105.4 254.5,104.6 255.5,103.7 256.5,102.8 257.5,101.9 258.5,101.0 259.5,100.2 260.5,99.5 261.5,98.9 262.5,98.4 263.5,98.0 264.5,97.7 265.5,97.7 266.5,97.7 267.5,98.0 268.5,98.4 269.5,99.0 270.5,99.8 271.5,100.8 272.5,101.9 273.5,103.1 274.5,104.5 275.5,106.0 276.5,107.7 277.5,109.4 278.5,111.1 279.5,112.9 280.5,114.7 281.5,116.6 282.5,118.3 283.5,120.1 284.5,121.7 285.5,123.3 286.5,124.7 287.5,126.0 288.5,127.2 289.5,128.1 290.5,128.9 291.5,129.5 292.5,129.8 293.5,129.9 294.5,129.7 295.5,129.2 296.5,128.5 297.5,127.5 298.5,126.2 299.5,124.6 300.5,122.7 301.5,120.5 302.5,118.0 303.5,115.3 304.5,112.2 305.5,108.9 306.5,105.4 307.5,101.6 308.5,97.6 309.5,93.5 310.5,89.2 311.5,84.8 312.5,80.3 313.5,75.9 314.5,71.4 315.5,67.0 316.5,62.8 317.5,58.7 318.5,54.8 319.5,51.1 320.5,47.8 321.5,44.8 322.5,42.1 323.5,39.9 324.5,38.1 325.5,36.7 326.5,35.8 327.5,35.4 328.5,35.5 329.5,36.0 330.5,37.0 331.5,38.4 332.5,40.2 333.5,42.4 334.5,44.9 335.5,47.7 336.5,50.8 337.5,54.1 338.5,57.5 339.5,61.1 340.5,64.7 341.5,68.3 342.5,71.9 343.5,75.4 344.5,78.9 345.5,82.2 346.5,85.3 347.5,88.2 348.5,90.9 349.5,93.4 350.5,95.7 351.5,97.8 352.5,99.6 353.5,101.2 354.5,102.6 355.5,103.8 356.5,104.8 357.5,105.7 358.5,106.5 359.5,107.1 360.5,107.7 361.5,108.2 362.5,108.7 363.5,109.1 364.5,109.6 365.5,110.1 366.5,110.6 367.5,111.2 368.5,111.8 369.5,112.6 370.5,113.4 371.5,114.3 372.5,115.3 373.5,116.3 374.5,117.5 375.5,118.7 376.5,120.0 377.5,121.3 378.5,122.7 379.5,124.1 380.5,125.6 381.5,127.0 382.5,128.5 383.5,129.9 384.5,131.3 385.5,132.7 386.5,134.1 387.5,135.4 388.5,136.6 389.5,137.8 390.5,138.9 391.5,140.0 392.5,141.0 393.5,141.9 394.5,142.7 395.5,143.5 396.5,144.2 397.5,144.8 398.5,145.4 399.5,146.0 400.5,146.4 401.5,146.8 402.5,147.2 403.5,147.5 404.5,147.8 405.5,148.1 406.5,148.3 407.5,148.5 408.5,148.6 409.5,148.7 410.5,148.9 411.5,149.0 412.5,149.0 413.5,149.1 414.5,149.2 415.5,149.2 416.5,149.2" fill="none" stroke="#f090a8" stroke-width="1.8" opacity="0.3"/>
<path d="M32.3 149.4L33.1 149.4M34.0 149.4L34.9 149.4M35.8 149.4L36.6 149.4M37.5 149.4L38.4 149.4M39.3 149.4L40.1 149.4M41.0 149.4L41.9 149.4M42.8 149.4L43.6 149.4M44.5 149.4L45.4 149.4M46.3 149.4L47.1 149.4M48.0 149.4L48.9 149.4M49.8 149.4L50.6 149.4M51.5 149.4L52.4 149.4M53.3 149.4L54.1 149.4M55.0 149.4L55.9 149.4M56.8 149.4L57.6 149.4M58.5 149.4L59.4 149.4M60.3 149.4L61.1 149.4M62.0 149.4L62.9 149.4M63.8 149.4L64.6 149.4M65.5 149.4L66.4 149.4M67.3 149.3L68.1 149.3M69.0 149.3L69.9 149.3M70.8 149.3L71.6 149.3M72.5 149.3L73.4 149.2M74.3 149.2L75.1 149.2M76.0 149.1L76.9 149.1M77.8 149.0L78.6 149.0M79.5 148.9L80.4 148.9M81.3 148.8L82.1 148.7M83.0 148.6L83.9 148.5M84.8 148.4L85.6 148.3M86.5 148.2L87.4 148.1M88.3 147.9L89.1 147.8M90.0 147.6L90.9 147.4M91.8 147.2L92.6 147.1M93.5 146.9L94.4 146.7M95.3 146.4L96.1 146.2M97.0 146.0L97.9 145.8M98.8 145.6L99.6 145.3M100.5 145.1L101.4 144.9M102.3 144.6L103.1 144.4M104.0 144.2L104.9 144.0M105.8 143.8L106.6 143.6M107.5 143.5L108.4 143.3M109.3 143.1L110.1 143.0M111.0 142.9L111.9 142.8M112.8 142.7L113.6 142.7M114.5 142.7L115.4 142.6M116.3 142.6L117.1 142.7M118.0 142.7L118.9 142.8M119.8 142.9L120.6 143.0M121.5 143.1L122.4 143.2M123.3 143.4L124.1 143.5M125.0 143.7L125.9 143.9M126.8 144.1L127.6 144.3M128.6 144.5L129.4 144.7M130.3 144.9L131.2 145.1M132.1 145.3L132.9 145.5M133.8 145.7L134.7 145.8M135.6 146.0L136.4 146.2M137.3 146.3L138.2 146.5M139.1 146.6L139.9 146.7M140.8 146.8L141.7 146.9M142.6 147.0L143.4 147.0M144.3 147.0L145.2 147.0M146.1 147.0L146.9 146.9M147.8 146.9L148.7 146.7M149.6 146.6L150.4 146.5M151.3 146.3L152.2 146.0M153.1 145.8L153.9 145.5M154.8 145.2L155.7 144.8M156.6 144.5L157.4 144.1M158.3 143.6L159.2 143.1M160.1 142.6L160.9 142.1M161.8 141.5L162.7 141.0M163.6 140.4L164.4 139.7M165.3 139.1L166.2 138.4M167.1 137.7L167.9 137.0M168.8 136.3L169.7 135.6M170.6 134.8L171.4 134.1M172.3 133.4L173.2 132.6M174.1 131.9L174.9 131.2M175.8 130.4L176.7 129.7M177.6 128.9L178.4 128.2M179.3 127.5L180.2 126.8M181.1 126.0L181.9 125.3M182.8 124.6L183.7 123.9M184.6 123.1L185.4 122.4M186.3 121.6L187.2 120.8M188.1 119.9L188.9 119.1M189.8 118.1L190.7 117.2M191.6 116.2L192.4 115.2M193.3 114.1L194.2 113.0M195.1 111.7L195.9 110.5M196.8 109.2L197.7 107.9M198.6 106.5L199.4 105.1M200.3 103.6L201.2 102.2M202.1 100.7L202.9 99.2M203.8 97.7L204.7 96.2M205.6 94.7L206.4 93.4M207.3 91.9L208.2 90.6M209.1 89.4L209.9 88.2M210.8 87.1L211.7 86.2M212.6 85.3L213.4 84.6M214.3 83.9L215.2 83.5M216.1 83.1L216.9 82.9M217.8 82.9L218.7 83.0M219.6 83.2L220.4 83.6M221.3 84.1L222.2 84.7M223.1 85.4L223.9 86.3M224.8 87.2L225.7 88.3M226.6 89.4L227.4 90.6M228.3 91.8L229.2 93.1M230.1 94.4L230.9 95.7M231.8 97.0L232.7 98.3M233.6 99.6L234.4 100.8M235.3 102.0L236.2 103.1M237.1 104.2L237.9 105.2M238.8 106.1L239.7 106.8M240.6 107.6L241.4 108.1M242.3 108.6L243.2 109.0M244.1 109.2L244.9 109.3M245.8 109.4L246.7 109.3M247.6 109.1L248.4 108.8M249.3 108.4L250.2 107.9M251.1 107.3L251.9 106.7M252.8 106.0L253.7 105.3M254.6 104.5L255.4 103.8M256.3 103.0L257.2 102.2M258.1 101.4L258.9 100.7M259.8 100.0L260.7 99.4M261.6 98.8L262.4 98.4M263.3 98.0L264.2 97.8M265.1 97.7L265.9 97.7M266.8 97.8L267.7 98.0M268.6 98.5L269.4 99.0M270.3 99.6L271.2 100.4M272.1 101.4L272.9 102.4M273.8 103.5L274.7 104.7M275.6 106.1L276.4 107.5M277.3 109.0L278.2 110.5M279.1 112.1L279.9 113.6M280.8 115.3L281.7 116.8M282.6 118.4L283.4 119.9M284.3 121.4L285.2 122.8M286.1 124.1L286.9 125.3M287.8 126.4L288.7 127.3M289.6 128.2L290.4 128.8M291.3 129.4L292.2 129.7M293.1 129.9L293.9 129.8M294.8 129.6L295.7 129.2M296.6 128.5L297.4 127.6M298.3 126.5L299.2 125.2M300.1 123.6L300.9 121.9M301.8 119.8L302.7 117.6M303.6 115.1L304.4 112.5M305.3 109.6L306.2 106.6M307.1 103.3L307.9 100.0M308.8 96.4L309.7 92.8M310.6 89.0L311.4 85.2M312.3 81.2L313.2 77.4M314.1 73.4L314.9 69.7M315.8 65.7L316.7 62.1M317.6 58.5L318.4 55.1M319.3 51.8L320.2 48.9M321.1 46.1L321.9 43.7M322.8 41.4L323.7 39.6M324.6 38.0L325.4 36.9M326.3 36.0L327.2 35.5M328.1 35.4L328.9 35.6M329.8 36.2L330.7 37.2M331.6 38.5L332.4 40.0M333.3 41.9L334.2 44.0M335.1 46.4L335.9 48.9M336.8 51.8L337.7 54.6M338.6 57.7L339.4 60.7M340.3 63.9L341.2 67.0M342.1 70.3L342.9 73.3M343.8 76.5L344.7 79.4M345.6 82.3L346.4 85.0M347.3 87.6L348.2 90.0M349.1 92.3L349.9 94.4M350.8 96.4L351.7 98.1M352.6 99.7L353.4 101.0M354.3 102.3L355.2 103.4M356.1 104.4L356.9 105.2M357.8 106.0L358.7 106.6M359.6 107.2L360.4 107.6M361.3 108.1L362.2 108.5M363.1 108.9L363.9 109.3M364.8 109.7L365.7 110.1M366.6 110.6L367.4 111.1M368.3 111.7L369.2 112.3M370.1 113.0L370.9 113.7M371.8 114.6L372.7 115.4M373.6 116.4L374.4 117.4M375.3 118.4L376.2 119.5M377.1 120.7L377.9 121.9M378.8 123.1L379.7 124.3M380.6 125.6L381.4 126.9M382.3 128.2L383.2 129.4M384.1 130.7L384.9 131.9M385.8 133.1L386.7 134.3M387.6 135.4L388.4 136.5M389.3 137.6L390.2 138.5M391.1 139.5L391.9 140.4M392.8 141.2L393.7 142.0M394.6 142.8L395.4 143.4M396.3 144.1L397.2 144.6M398.1 145.2L398.9 145.6M399.8 146.1L400.7 146.5M401.6 146.9L402.4 147.2M403.3 147.5L404.2 147.7M405.1 147.9L405.9 148.1M406.8 148.3L407.7 148.5M408.6 148.6L409.4 148.7M410.3 148.8L411.2 148.9M412.1 149.0L412.9 149.1M413.8 149.1L414.7 149.2M415.6 149.2L416.4 149.2M417.3 149.3L418.2 149.3M419.1 149.3L419.9 149.3M420.8 149.3L421.7 149.4M422.6 149.4L423.4 149.4M424.3 149.4L425.2 149.4M426.1 149.4L426.9 149.4M427.8 149.4L428.7 149.4M429.6 149.4L430.4 149.4M431.3 149.4L432.2 149.4M433.1 149.4L433.9 149.4M434.8 149.4L435.7 149.4M436.6 149.4L437.4 149.4M438.3 149.4L439.2 149.4M440.1 149.4L440.9 149.4M441.8 149.4L442.7 149.4M443.6 149.4L444.4 149.4M445.3 149.4L446.2 149.4M447.1 149.4L447.9 149.4M448.8 149.4L449.7 149.4M450.6 149.4L451.4 149.4M452.3 149.4L453.2 149.4M454.1 149.4L454.9 149.4M455.8 149.4L456.7 149.4M457.6 149.4L458.4 149.4M459.3 149.4L460.2 149.4M461.1 149.4L461.9 149.4M462.8 149.4L463.7 149.4M464.6 149.4L465.4 149.4M466.3 149.4L467.2 149.4M468.1 149.4L468.9 149.4M469.8 149.4L470.7 149.4M471.6 149.4L472.4 149.4M473.3 149.4L474.2 149.4M475.1 149.4L475.9 149.4M476.8 149.4L477.7 149.4M478.6 149.4L479.4 149.4M480.3 149.4L481.2 149.4M482.1 149.4L482.9 149.4M483.8 149.4L484.7 149.4M485.6 149.4L486.4 149.4M487.3 149.4L488.2 149.4M489.1 149.4L489.9 149.4M490.8 149.4L491.7 149.4M492.6 149.4L493.4 149.4M494.3 149.4L495.2 149.4M496.1 149.4L496.9 149.4M497.8 149.4L498.7 149.4" fill="none" stroke="#d84468" stroke-width="1.0" opacity="0.65"/>
<path d="M105.5 149.2 106.0 149.1 106.5 148.9 107.0 148.7 107.5 148.5 108.0 148.3 108.5 148.0 109.0 147.6 109.5 147.3 110.0 146.9 110.5 146.5 111.0 146.1 111.5 145.8 112.0 145.5 112.5 145.3 113.0 145.1 113.5 145.1 114.0 145.2 114.5 145.3 115.0 145.6 115.5 145.9 116.0 146.2 116.5 146.6 117.0 147.0 117.5 147.3 118.0 147.7 118.5 148.0 119.0 148.2 119.5 148.4 120.0 148.5 120.5 148.5 121.0 148.5 121.5 148.4 122.0 148.3 122.5 148.2 123.0 148.0 123.5 147.8 124.0 147.6 124.5 147.5 125.0 147.4 125.5 147.3 126.0 147.2 126.5 147.2 127.0 147.2 127.5 147.3 128.0 147.5 128.5 147.6 129.0 147.8 129.5 148.0 130.0 148.2 130.5 148.4 131.0 148.6 131.5 148.8 132.0 148.9 132.5 149.0 133.0 149.1 133.5 149.2M166.5 149.2 167.0 149.1 167.5 149.0 168.0 148.9 168.5 148.7 169.0 148.5 169.5 148.3 170.0 148.1 170.5 147.8 171.0 147.5 171.5 147.2 172.0 147.0 172.5 146.7 173.0 146.6 173.5 146.4 174.0 146.3 174.5 146.2 175.0 146.2 175.5 146.2 176.0 146.2 176.5 146.1 177.0 146.0 177.5 145.8 178.0 145.4 178.5 144.9 179.0 144.1 179.5 143.2 180.0 142.1 180.5 140.8 181.0 139.4 181.5 137.9 182.0 136.5 182.5 135.1 183.0 134.0 183.5 133.1 184.0 132.6 184.5 132.4 185.0 132.6 185.5 133.2 186.0 134.1 186.5 135.2 187.0 136.6 187.5 138.2 188.0 139.7 188.5 141.2 189.0 142.7 189.5 144.0 190.0 145.2 190.5 146.1 191.0 147.0 191.5 147.6 192.0 148.1 192.5 148.5 193.0 148.8 193.5 148.9 194.0 149.1 194.5 149.1 195.0 149.1 195.5 149.1 196.0 149.1 196.5 149.0 197.0 148.9 197.5 148.8 198.0 148.6 198.5 148.4 199.0 148.3 199.5 148.1 200.0 147.9 200.5 147.7 201.0 147.6 201.5 147.5 202.0 147.4 202.5 147.4 203.0 147.4 203.5 147.5 204.0 147.6 204.5 147.7 205.0 147.8 205.5 147.9 206.0 148.0 206.5 148.1 207.0 148.0 207.5 147.9 208.0 147.5 208.5 147.0 209.0 146.1 209.5 144.9 210.0 143.3 210.5 141.2 211.0 138.5 211.5 135.3 212.0 131.4 212.5 127.1 213.0 122.3 213.5 117.2 214.0 112.0 214.5 107.0 215.0 102.4 215.5 98.4 216.0 95.4 216.5 93.5 217.0 92.9 217.5 93.5 218.0 95.4 218.5 98.4 219.0 102.4 219.5 107.0 220.0 112.0 220.5 117.2 221.0 122.3 221.5 127.1 222.0 131.5 222.5 135.3 223.0 138.6 223.5 141.3 224.0 143.4 224.5 145.1 225.0 146.4 225.5 147.3 226.0 148.0 226.5 148.5 227.0 148.8 227.5 149.0 228.0 149.0 228.5 149.1 229.0 149.0 229.5 148.9 230.0 148.6 230.5 148.3 231.0 147.9 231.5 147.4 232.0 146.7 232.5 145.8 233.0 144.8 233.5 143.6 234.0 142.3 234.5 140.9 235.0 139.4 235.5 138.0 236.0 136.6 236.5 135.4 237.0 134.4 237.5 133.8 238.0 133.4 238.5 133.5 239.0 133.9 239.5 134.6 240.0 135.6 240.5 136.9 241.0 138.2 241.5 139.7 242.0 141.2 242.5 142.6 243.0 143.8 243.5 145.0 244.0 146.0 244.5 146.8 245.0 147.5 245.5 148.0 246.0 148.4 246.5 148.7 247.0 148.9 247.5 149.1 248.0 149.2M256.5 149.2 257.0 149.1 257.5 148.9 258.0 148.6 258.5 148.2 259.0 147.6 259.5 146.8 260.0 145.7 260.5 144.2 261.0 142.4 261.5 140.0 262.0 137.2 262.5 133.9 263.0 130.1 263.5 125.9 264.0 121.5 264.5 117.0 265.0 112.6 265.5 108.6 266.0 105.2 266.5 102.6 267.0 101.0 267.5 100.4 268.0 101.0 268.5 102.6 269.0 105.2 269.5 108.6 270.0 112.6 270.5 117.0 271.0 121.5 271.5 125.9 272.0 130.1 272.5 133.9 273.0 137.2 273.5 140.0 274.0 142.4 274.5 144.2 275.0 145.7 275.5 146.8 276.0 147.6 276.5 148.2 277.0 148.6 277.5 148.9 278.0 149.1 278.5 149.2M294.0 149.2 294.5 149.1 295.0 149.0 295.5 148.8 296.0 148.6 296.5 148.4 297.0 148.1 297.5 147.8 298.0 147.5 298.5 147.1 299.0 146.8 299.5 146.4 300.0 146.1 300.5 145.8 301.0 145.6 301.5 145.4 302.0 145.4 302.5 145.4 303.0 145.6 303.5 145.8 304.0 146.1 304.5 146.4 305.0 146.8 305.5 147.1 306.0 147.5 306.5 147.8 307.0 148.1 307.5 148.4 308.0 148.6 308.5 148.8 309.0 149.0 309.5 149.1 310.0 149.2M316.0 149.2 316.5 149.0 317.0 148.7 317.5 148.3 318.0 147.7 318.5 146.9 319.0 145.6 319.5 143.8 320.0 141.5 320.5 138.3 321.0 134.3 321.5 129.3 322.0 123.2 322.5 116.1 323.0 108.0 323.5 99.0 324.0 89.6 324.5 79.9 325.0 70.6 325.5 62.0 326.0 54.7 326.5 49.1 327.0 45.6 327.5 44.4 328.0 45.6 328.5 49.1 329.0 54.7 329.5 62.0 330.0 70.6 330.5 79.9 331.0 89.6 331.5 99.0 332.0 108.0 332.5 116.1 333.0 123.2 333.5 129.3 334.0 134.3 334.5 138.3 335.0 141.5 335.5 143.8 336.0 145.6 336.5 146.9 337.0 147.7 337.5 148.3 338.0 148.7 338.5 149.0 339.0 149.2M356.5 149.2 357.0 149.1 357.5 148.9 358.0 148.7 358.5 148.3 359.0 147.8 359.5 147.1 360.0 146.2 360.5 145.0 361.0 143.5 361.5 141.6 362.0 139.4 362.5 136.9 363.0 134.1 363.5 131.0 364.0 127.8 364.5 124.7 365.0 121.8 365.5 119.2 366.0 117.1 366.5 115.7 367.0 115.0 367.5 115.0 368.0 115.9 368.5 117.5 369.0 119.7 369.5 122.3 370.0 125.3 370.5 128.5 371.0 131.6 371.5 134.6 372.0 137.4 372.5 139.9 373.0 142.0 373.5 143.8 374.0 145.3 374.5 146.4 375.0 147.3 375.5 147.9 376.0 148.4 376.5 148.7 377.0 149.0 377.5 149.1 378.0 149.2" fill="none" stroke="#111" stroke-width="1.7" stroke-linejoin="round"/>
<polyline points="94.5,268.9 95.5,268.9 96.5,268.9 97.5,268.9 98.5,268.8 99.5,268.8 100.5,268.8 101.5,268.7 102.5,268.7 103.5,268.6 104.5,268.6 105.5,268.6 106.5,268.5 107.5,268.5 108.5,268.4 109.5,268.4 110.5,268.3 111.5,268.3 112.5,268.2 113.5,268.1 114.5,268.1 115.5,268.1 116.5,268.0 117.5,268.0 118.5,267.9 119.5,267.9 120.5,267.9 121.5,267.8 122.5,267.8 123.5,267.8 124.5,267.8 125.5,267.7 126.5,267.7 127.5,267.7 128.5,267.7 129.5,267.7 130.5,267.7 131.5,267.7 132.5,267.6 133.5,267.6 134.5,267.6 135.5,267.6 136.5,267.5 137.5,267.5 138.5,267.4 139.5,267.4 140.5,267.3 141.5,267.2 142.5,267.1 143.5,267.0 144.5,266.9 145.5,266.8 146.5,266.7 147.5,266.5 148.5,266.4 149.5,266.2 150.5,266.1 151.5,265.9 152.5,265.7 153.5,265.5 154.5,265.4 155.5,265.2 156.5,265.0 157.5,264.8 158.5,264.6 159.5,264.3 160.5,264.1 161.5,263.9 162.5,263.7 163.5,263.5 164.5,263.2 165.5,263.0 166.5,262.8 167.5,262.5 168.5,262.3 169.5,262.1 170.5,261.8 171.5,261.6 172.5,261.3 173.5,261.1 174.5,260.8 175.5,260.6 176.5,260.3 177.5,260.1 178.5,259.8 179.5,259.6 180.5,259.3 181.5,259.0 182.5,258.7 183.5,258.4 184.5,258.1 185.5,257.8 186.5,257.5 187.5,257.1 188.5,256.7 189.5,256.3 190.5,255.8 191.5,255.3 192.5,254.7 193.5,254.1 194.5,253.4 195.5,252.6 196.5,251.7 197.5,250.8 198.5,249.7 199.5,248.6 200.5,247.4 201.5,246.0 202.5,244.6 203.5,243.0 204.5,241.4 205.5,239.6 206.5,237.7 207.5,235.7 208.5,233.7 209.5,231.6 210.5,229.4 211.5,227.1 212.5,224.9 213.5,222.6 214.5,220.3 215.5,218.1 216.5,215.9 217.5,213.8 218.5,211.8 219.5,210.0 220.5,208.3 221.5,206.7 222.5,205.4 223.5,204.3 224.5,203.3 225.5,202.6 226.5,202.2 227.5,202.0 228.5,202.0 229.5,202.2 230.5,202.7 231.5,203.4 232.5,204.3 233.5,205.3 234.5,206.6 235.5,207.9 236.5,209.4 237.5,211.0 238.5,212.6 239.5,214.2 240.5,215.9 241.5,217.6 242.5,219.2 243.5,220.7 244.5,222.2 245.5,223.6 246.5,224.9 247.5,226.1 248.5,227.2 249.5,228.1 250.5,228.9 251.5,229.6 252.5,230.1 253.5,230.6 254.5,230.9 255.5,231.2 256.5,231.3 257.5,231.4 258.5,231.5 259.5,231.5 260.5,231.4 261.5,231.4 262.5,231.3 263.5,231.3 264.5,231.3 265.5,231.3 266.5,231.4 267.5,231.5 268.5,231.6 269.5,231.9 270.5,232.1 271.5,232.5 272.5,232.9 273.5,233.4 274.5,233.9 275.5,234.5 276.5,235.2 277.5,235.9 278.5,236.6 279.5,237.4 280.5,238.3 281.5,239.1 282.5,240.0 283.5,240.9 284.5,241.7 285.5,242.6 286.5,243.5 287.5,244.3 288.5,245.2 289.5,246.0 290.5,246.7 291.5,247.4 292.5,248.1 293.5,248.7 294.5,249.2 295.5,249.6 296.5,250.0 297.5,250.3 298.5,250.4 299.5,250.5 300.5,250.4 301.5,250.2 302.5,249.9 303.5,249.4 304.5,248.8 305.5,248.1 306.5,247.2 307.5,246.1 308.5,244.9 309.5,243.5 310.5,241.9 311.5,240.2 312.5,238.4 313.5,236.4 314.5,234.3 315.5,232.0 316.5,229.7 317.5,227.3 318.5,224.8 319.5,222.3 320.5,219.7 321.5,217.2 322.5,214.7 323.5,212.3 324.5,210.0 325.5,207.9 326.5,205.9 327.5,204.1 328.5,202.5 329.5,201.1 330.5,200.1 331.5,199.3 332.5,198.7 333.5,198.5 334.5,198.6 335.5,199.0 336.5,199.7 337.5,200.7 338.5,202.0 339.5,203.5 340.5,205.2 341.5,207.2 342.5,209.3 343.5,211.6 344.5,214.0 345.5,216.5 346.5,219.0 347.5,221.6 348.5,224.1 349.5,226.6 350.5,229.1 351.5,231.4 352.5,233.6 353.5,235.7 354.5,237.7 355.5,239.5 356.5,241.1 357.5,242.5 358.5,243.8 359.5,244.9 360.5,245.8 361.5,246.6 362.5,247.2 363.5,247.7 364.5,248.1 365.5,248.4 366.5,248.6 367.5,248.7 368.5,248.7 369.5,248.8 370.5,248.8 371.5,248.7 372.5,248.7 373.5,248.8 374.5,248.8 375.5,248.9 376.5,249.1 377.5,249.3 378.5,249.5 379.5,249.8 380.5,250.2 381.5,250.7 382.5,251.2 383.5,251.8 384.5,252.4 385.5,253.1 386.5,253.8 387.5,254.6 388.5,255.3 389.5,256.1 390.5,256.9 391.5,257.7 392.5,258.5 393.5,259.3 394.5,260.1 395.5,260.9 396.5,261.6 397.5,262.3 398.5,262.9 399.5,263.5 400.5,264.1 401.5,264.7 402.5,265.2 403.5,265.6 404.5,266.1 405.5,266.4 406.5,266.8 407.5,267.1 408.5,267.4 409.5,267.6 410.5,267.8 411.5,268.0 412.5,268.2 413.5,268.3 414.5,268.5 415.5,268.6 416.5,268.7 417.5,268.7 418.5,268.8 419.5,268.9 420.5,268.9 421.5,268.9" fill="none" stroke="#f090a8" stroke-width="1.8" opacity="0.3"/>
<path d="M32.3 269.1L33.1 269.1M34.0 269.1L34.9 269.1M35.8 269.1L36.6 269.1M37.5 269.1L38.4 269.1M39.3 269.1L40.1 269.1M41.0 269.1L41.9 269.1M42.8 269.1L43.6 269.1M44.5 269.1L45.4 269.1M46.3 269.1L47.1 269.1M48.0 269.1L48.9 269.1M49.8 269.1L50.6 269.1M51.5 269.1L52.4 269.1M53.3 269.1L54.1 269.1M55.0 269.1L55.9 269.1M56.8 269.1L57.6 269.1M58.5 269.1L59.4 269.1M60.3 269.1L61.1 269.1M62.0 269.1L62.9 269.1M63.8 269.1L64.6 269.1M65.5 269.1L66.4 269.1M67.3 269.1L68.1 269.1M69.0 269.1L69.9 269.1M70.8 269.1L71.6 269.1M72.5 269.1L73.4 269.1M74.3 269.1L75.1 269.1M76.0 269.1L76.9 269.1M77.8 269.1L78.6 269.1M79.5 269.1L80.4 269.1M81.3 269.1L82.1 269.1M83.0 269.1L83.9 269.1M84.8 269.1L85.6 269.1M86.5 269.1L87.4 269.0M88.3 269.0L89.1 269.0M90.0 269.0L90.9 269.0M91.8 269.0L92.6 269.0M93.5 269.0L94.4 268.9M95.3 268.9L96.1 268.9M97.0 268.9L97.9 268.9M98.8 268.8L99.6 268.8M100.5 268.8L101.4 268.7M102.3 268.7L103.1 268.7M104.0 268.6L104.9 268.6M105.8 268.5L106.6 268.5M107.5 268.5L108.4 268.4M109.3 268.4L110.1 268.3M111.0 268.3L111.9 268.2M112.8 268.2L113.6 268.1M114.5 268.1L115.4 268.1M116.3 268.0L117.1 268.0M118.0 267.9L118.9 267.9M119.8 267.9L120.6 267.9M121.5 267.8L122.4 267.8M123.3 267.8L124.1 267.8M125.0 267.8L125.9 267.7M126.8 267.7L127.6 267.7M128.6 267.7L129.4 267.7M130.3 267.7L131.2 267.7M132.1 267.6L132.9 267.6M133.8 267.6L134.7 267.6M135.6 267.6L136.4 267.5M137.3 267.5L138.2 267.4M139.1 267.4L139.9 267.3M140.8 267.3L141.7 267.2M142.6 267.1L143.4 267.0M144.3 266.9L145.2 266.8M146.1 266.7L146.9 266.6M147.8 266.5L148.7 266.4M149.6 266.2L150.4 266.1M151.3 265.9L152.2 265.8M153.1 265.6L153.9 265.5M154.8 265.3L155.7 265.1M156.6 265.0L157.4 264.8M158.3 264.6L159.2 264.4M160.1 264.2L160.9 264.0M161.8 263.8L162.7 263.7M163.6 263.5L164.4 263.3M165.3 263.1L166.2 262.9M167.1 262.6L167.9 262.4M168.8 262.2L169.7 262.0M170.6 261.8L171.4 261.6M172.3 261.4L173.2 261.2M174.1 260.9L174.9 260.7M175.8 260.5L176.7 260.3M177.6 260.1L178.4 259.8M179.3 259.6L180.2 259.4M181.1 259.1L181.9 258.9M182.8 258.7L183.7 258.4M184.6 258.1L185.4 257.9M186.3 257.5L187.2 257.2M188.1 256.9L188.9 256.5M189.8 256.1L190.7 255.7M191.6 255.2L192.4 254.8M193.3 254.2L194.2 253.6M195.1 252.9L195.9 252.2M196.8 251.5L197.7 250.6M198.6 249.7L199.4 248.7M200.3 247.6L201.2 246.5M202.1 245.3L202.9 244.0M203.8 242.5L204.7 241.1M205.6 239.5L206.4 237.9M207.3 236.1L208.2 234.4M209.1 232.5L209.9 230.7M210.8 228.7L211.7 226.8M212.6 224.7L213.4 222.8M214.3 220.8L215.2 218.9M216.1 216.9L216.9 215.1M217.8 213.2L218.7 211.6M219.6 209.9L220.4 208.4M221.3 207.0L222.2 205.8M223.1 204.7L223.9 203.9M224.8 203.1L225.7 202.6M226.6 202.2L227.4 202.0M228.3 201.9L229.2 202.1M230.1 202.5L230.9 202.9M231.8 203.6L232.7 204.4M233.6 205.4L234.4 206.4M235.3 207.6L236.2 208.9M237.1 210.2L237.9 211.6M238.8 213.1L239.7 214.5M240.6 216.0L241.4 217.4M242.3 218.9L243.2 220.2M244.1 221.6L244.9 222.8M245.8 224.0L246.7 225.1M247.6 226.2L248.4 227.1M249.3 227.9L250.2 228.6M251.1 229.3L251.9 229.8M252.8 230.3L253.7 230.6M254.6 230.9L255.4 231.2M256.3 231.3L257.2 231.4M258.1 231.5L258.9 231.5M259.8 231.4L260.7 231.4M261.6 231.4L262.4 231.3M263.3 231.3L264.2 231.3M265.1 231.3L265.9 231.3M266.8 231.4L267.7 231.5M268.6 231.6L269.4 231.8M270.3 232.1L271.2 232.4M272.1 232.7L272.9 233.1M273.8 233.5L274.7 234.0M275.6 234.6L276.4 235.1M277.3 235.8L278.2 236.4M279.1 237.1L279.9 237.8M280.8 238.5L281.7 239.2M282.6 240.0L283.4 240.8M284.3 241.6L285.2 242.3M286.1 243.1L286.9 243.8M287.8 244.6L288.7 245.3M289.6 246.0L290.4 246.7M291.3 247.3L292.2 247.9M293.1 248.4L293.9 248.9M294.8 249.3L295.7 249.7M296.6 250.0L297.4 250.2M298.3 250.4L299.2 250.5M300.1 250.5L300.9 250.3M301.8 250.1L302.7 249.8M303.6 249.4L304.4 248.9M305.3 248.2L306.2 247.5M307.1 246.6L307.9 245.6M308.8 244.5L309.7 243.3M310.6 241.9L311.4 240.4M312.3 238.8L313.2 237.1M314.1 235.3L314.9 233.4M315.8 231.4L316.7 229.3M317.6 227.2L318.4 225.0M319.3 222.8L320.2 220.6M321.1 218.3L321.9 216.2M322.8 214.0L323.7 212.0M324.6 209.9L325.4 208.1M326.3 206.3L327.2 204.7M328.1 203.2L328.9 201.9M329.8 200.8L330.7 199.9M331.6 199.2L332.4 198.8M333.3 198.6L334.2 198.6M335.1 198.8L335.9 199.3M336.8 200.0L337.7 200.9M338.6 202.0L339.4 203.3M340.3 204.9L341.2 206.5M342.1 208.4L342.9 210.2M343.8 212.3L344.7 214.4M345.6 216.6L346.4 218.8M347.3 221.1L348.2 223.3M349.1 225.5L349.9 227.6M350.8 229.8L351.7 231.8M352.6 233.8L353.4 235.5M354.3 237.3L355.2 238.9M356.1 240.4L356.9 241.7M357.8 242.9L358.7 244.0M359.6 244.9L360.4 245.7M361.3 246.5L362.2 247.0M363.1 247.5L363.9 247.9M364.8 248.2L365.7 248.4M366.6 248.6L367.4 248.7M368.3 248.7L369.2 248.8M370.1 248.8L370.9 248.8M371.8 248.7L372.7 248.7M373.6 248.8L374.4 248.8M375.3 248.9L376.2 249.0M377.1 249.2L377.9 249.4M378.8 249.6L379.7 249.9M380.6 250.3L381.4 250.6M382.3 251.1L383.2 251.6M384.1 252.1L384.9 252.7M385.8 253.3L386.7 253.9M387.6 254.6L388.4 255.2M389.3 256.0L390.2 256.6M391.1 257.4L391.9 258.1M392.8 258.8L393.7 259.4M394.6 260.1L395.4 260.8M396.3 261.4L397.2 262.0M398.1 262.6L398.9 263.2M399.8 263.7L400.7 264.2M401.6 264.7L402.4 265.1M403.3 265.5L404.2 265.9M405.1 266.3L405.9 266.6M406.8 266.9L407.7 267.1M408.6 267.4L409.4 267.6M410.3 267.8L411.2 268.0M412.1 268.1L412.9 268.3M413.8 268.4L414.7 268.5M415.6 268.6L416.4 268.6M417.3 268.7L418.2 268.8M419.1 268.8L419.9 268.9M420.8 268.9L421.7 268.9M422.6 269.0L423.4 269.0M424.3 269.0L425.2 269.0M426.1 269.0L426.9 269.1M427.8 269.1L428.7 269.1M429.6 269.1L430.4 269.1M431.3 269.1L432.2 269.1M433.1 269.1L433.9 269.1M434.8 269.1L435.7 269.1M436.6 269.1L437.4 269.1M438.3 269.1L439.2 269.1M440.1 269.1L440.9 269.1M441.8 269.1L442.7 269.1M443.6 269.1L444.4 269.1M445.3 269.1L446.2 269.1M447.1 269.1L447.9 269.1M448.8 269.1L449.7 269.1M450.6 269.1L451.4 269.1M452.3 269.1L453.2 269.1M454.1 269.1L454.9 269.1M455.8 269.1L456.7 269.1M457.6 269.1L458.4 269.1M459.3 269.1L460.2 269.1M461.1 269.1L461.9 269.1M462.8 269.1L463.7 269.1M464.6 269.1L465.4 269.1M466.3 269.1L467.2 269.1M468.1 269.1L468.9 269.1M469.8 269.1L470.7 269.1M471.6 269.1L472.4 269.1M473.3 269.1L474.2 269.1M475.1 269.1L475.9 269.1M476.8 269.1L477.7 269.1M478.6 269.1L479.4 269.1M480.3 269.1L481.2 269.1M482.1 269.1L482.9 269.1M483.8 269.1L484.7 269.1M485.6 269.1L486.4 269.1M487.3 269.1L488.2 269.1M489.1 269.1L489.9 269.1M490.8 269.1L491.7 269.1M492.6 269.1L493.4 269.1M494.3 269.1L495.2 269.1M496.1 269.1L496.9 269.1M497.8 269.1L498.7 269.1" fill="none" stroke="#d84468" stroke-width="1.0" opacity="0.65"/>
<path d="M117.5 268.9 118.0 268.8 118.5 268.7 119.0 268.6 119.5 268.5 120.0 268.4 120.5 268.2 121.0 268.1 121.5 268.0 122.0 267.9 122.5 267.8 123.0 267.7 123.5 267.7 124.0 267.7 124.5 267.7 125.0 267.8 125.5 267.9 126.0 268.0 126.5 268.1 127.0 268.2 127.5 268.4 128.0 268.5 128.5 268.6 129.0 268.7 129.5 268.8 130.0 268.9M153.0 268.9 153.5 268.8 154.0 268.7 154.5 268.5 155.0 268.4 155.5 268.2 156.0 268.0 156.5 267.8 157.0 267.5 157.5 267.3 158.0 267.1 158.5 266.9 159.0 266.7 159.5 266.6 160.0 266.5 160.5 266.5 161.0 266.6 161.5 266.7 162.0 266.8 162.5 267.0 163.0 267.2 163.5 267.5 164.0 267.7 164.5 267.9 165.0 268.2 165.5 268.3 166.0 268.5 166.5 268.7 167.0 268.8 167.5 268.9M174.0 268.9 174.5 268.8 175.0 268.6 175.5 268.5 176.0 268.3 176.5 268.0 177.0 267.7 177.5 267.4 178.0 267.0 178.5 266.6 179.0 266.3 179.5 265.9 180.0 265.5 180.5 265.2 181.0 265.0 181.5 264.8 182.0 264.8 182.5 264.8 183.0 265.0 183.5 265.2 184.0 265.5 184.5 265.9 185.0 266.3 185.5 266.6 186.0 267.0 186.5 267.4 187.0 267.7 187.5 268.0 188.0 268.3 188.5 268.5 189.0 268.6 189.5 268.8 190.0 268.9M193.0 268.9 193.5 268.8 194.0 268.7 194.5 268.6 195.0 268.4 195.5 268.1 196.0 267.8 196.5 267.4 197.0 266.9 197.5 266.3 198.0 265.7 198.5 265.1 199.0 264.5 199.5 263.8 200.0 263.3 200.5 262.8 201.0 262.4 201.5 262.2 202.0 262.1 202.5 262.2 203.0 262.4 203.5 262.8 204.0 263.3 204.5 263.8 205.0 264.5 205.5 265.1 206.0 265.7 206.5 266.3 207.0 266.9 207.5 267.4 208.0 267.8 208.5 268.1 209.0 268.4 209.5 268.6 210.0 268.7 210.5 268.8 211.0 268.9M215.5 268.9 216.0 268.8 216.5 268.6 217.0 268.3 217.5 267.9 218.0 267.3 218.5 266.4 219.0 265.3 219.5 263.8 220.0 261.8 220.5 259.3 221.0 256.3 221.5 252.7 222.0 248.7 222.5 244.1 223.0 239.3 223.5 234.4 224.0 229.5 224.5 225.0 225.0 221.1 225.5 218.0 226.0 216.0 226.5 215.1 227.0 215.4 227.5 217.0 228.0 219.7 228.5 223.2 229.0 227.5 229.5 232.2 230.0 237.0 230.5 241.9 231.0 246.4 231.5 250.5 232.0 254.2 232.5 257.2 233.0 259.7 233.5 261.6 234.0 263.0 234.5 264.0 235.0 264.6 235.5 264.9 236.0 265.0 236.5 265.0 237.0 264.8 237.5 264.6 238.0 264.3 238.5 264.0 239.0 263.8 239.5 263.6 240.0 263.4 240.5 263.3 241.0 263.3 241.5 263.3 242.0 263.4 242.5 263.6 243.0 263.8 243.5 264.1 244.0 264.5 244.5 264.8 245.0 265.2 245.5 265.6 246.0 266.0 246.5 266.4 247.0 266.7 247.5 267.1 248.0 267.4 248.5 267.7 249.0 267.9 249.5 268.1 250.0 268.3 250.5 268.5 251.0 268.6 251.5 268.7 252.0 268.8 252.5 268.9M254.5 268.9 255.0 268.8 255.5 268.6 256.0 268.4 256.5 268.0 257.0 267.6 257.5 266.9 258.0 266.1 258.5 265.1 259.0 263.7 259.5 262.2 260.0 260.3 260.5 258.2 261.0 255.9 261.5 253.5 262.0 251.1 262.5 248.8 263.0 246.6 263.5 244.9 264.0 243.6 264.5 242.8 265.0 242.6 265.5 243.0 266.0 244.0 266.5 245.5 267.0 247.4 267.5 249.6 268.0 252.0 268.5 254.4 269.0 256.8 269.5 259.0 270.0 260.9 270.5 262.6 271.0 264.0 271.5 265.1 272.0 265.9 272.5 266.5 273.0 266.9 273.5 267.1 274.0 267.1 274.5 266.9 275.0 266.7 275.5 266.3 276.0 265.8 276.5 265.3 277.0 264.7 277.5 264.0 278.0 263.3 278.5 262.6 279.0 261.9 279.5 261.2 280.0 260.5 280.5 259.9 281.0 259.4 281.5 259.0 282.0 258.7 282.5 258.5 283.0 258.4 283.5 258.5 284.0 258.7 284.5 259.0 285.0 259.4 285.5 259.9 286.0 260.5 286.5 261.2 287.0 261.9 287.5 262.6 288.0 263.3 288.5 264.0 289.0 264.7 289.5 265.3 290.0 265.9 290.5 266.4 291.0 266.9 291.5 267.3 292.0 267.7 292.5 267.9 293.0 268.2 293.5 268.4 294.0 268.6 294.5 268.7 295.0 268.8 295.5 268.9M299.0 268.9 299.5 268.8 300.0 268.7 300.5 268.6 301.0 268.4 301.5 268.2 302.0 267.9 302.5 267.6 303.0 267.3 303.5 267.0 304.0 266.7 304.5 266.3 305.0 266.0 305.5 265.8 306.0 265.6 306.5 265.4 307.0 265.4 307.5 265.4 308.0 265.6 308.5 265.8 309.0 266.0 309.5 266.3 310.0 266.7 310.5 267.0 311.0 267.3 311.5 267.6 312.0 267.9 312.5 268.2 313.0 268.4 313.5 268.6 314.0 268.7 314.5 268.8 315.0 268.9M323.0 268.9 323.5 268.8 324.0 268.6 324.5 268.2 325.0 267.8 325.5 267.1 326.0 266.2 326.5 265.0 327.0 263.4 327.5 261.3 328.0 258.8 328.5 255.6 329.0 252.0 329.5 247.8 330.0 243.2 330.5 238.3 331.0 233.4 331.5 228.6 332.0 224.2 332.5 220.4 333.0 217.5 333.5 215.7 334.0 215.1 334.5 215.7 335.0 217.5 335.5 220.4 336.0 224.2 336.5 228.6 337.0 233.4 337.5 238.3 338.0 243.2 338.5 247.8 339.0 252.0 339.5 255.6 340.0 258.8 340.5 261.3 341.0 263.4 341.5 265.0 342.0 266.2 342.5 267.1 343.0 267.8 343.5 268.2 344.0 268.6 344.5 268.8 345.0 268.9M366.5 268.9 367.0 268.8 367.5 268.7 368.0 268.4 368.5 268.1 369.0 267.7 369.5 267.1 370.0 266.3 370.5 265.4 371.0 264.2 371.5 262.9 372.0 261.3 372.5 259.5 373.0 257.6 373.5 255.6 374.0 253.6 374.5 251.8 375.0 250.2 375.5 248.9 376.0 248.0 376.5 247.5 377.0 247.6 377.5 248.1 378.0 249.1 378.5 250.5 379.0 252.2 379.5 254.0 380.0 256.0 380.5 258.0 381.0 259.9 381.5 261.6 382.0 263.2 382.5 264.5 383.0 265.6 383.5 266.5 384.0 267.2 384.5 267.8 385.0 268.2 385.5 268.5 386.0 268.7 386.5 268.8 387.0 268.9" fill="none" stroke="#111" stroke-width="1.7" stroke-linejoin="round"/>
<polyline points="67.5,388.7 68.5,388.7 69.5,388.7 70.5,388.7 71.5,388.6 72.5,388.6 73.5,388.5 74.5,388.5 75.5,388.4 76.5,388.4 77.5,388.3 78.5,388.2 79.5,388.2 80.5,388.1 81.5,388.0 82.5,387.9 83.5,387.8 84.5,387.7 85.5,387.6 86.5,387.5 87.5,387.4 88.5,387.3 89.5,387.2 90.5,387.0 91.5,386.9 92.5,386.8 93.5,386.7 94.5,386.5 95.5,386.4 96.5,386.3 97.5,386.1 98.5,386.0 99.5,385.9 100.5,385.8 101.5,385.6 102.5,385.5 103.5,385.4 104.5,385.3 105.5,385.1 106.5,385.0 107.5,384.9 108.5,384.8 109.5,384.7 110.5,384.5 111.5,384.4 112.5,384.3 113.5,384.2 114.5,384.1 115.5,383.9 116.5,383.8 117.5,383.7 118.5,383.6 119.5,383.4 120.5,383.3 121.5,383.2 122.5,383.0 123.5,382.9 124.5,382.8 125.5,382.6 126.5,382.5 127.5,382.4 128.5,382.3 129.5,382.2 130.5,382.1 131.5,382.0 132.5,381.9 133.5,381.8 134.5,381.8 135.5,381.7 136.5,381.7 137.5,381.7 138.5,381.7 139.5,381.7 140.5,381.7 141.5,381.7 142.5,381.8 143.5,381.8 144.5,381.9 145.5,382.0 146.5,382.1 147.5,382.1 148.5,382.2 149.5,382.3 150.5,382.4 151.5,382.4 152.5,382.5 153.5,382.5 154.5,382.5 155.5,382.5 156.5,382.5 157.5,382.5 158.5,382.4 159.5,382.3 160.5,382.1 161.5,381.9 162.5,381.7 163.5,381.4 164.5,381.1 165.5,380.7 166.5,380.3 167.5,379.9 168.5,379.4 169.5,378.9 170.5,378.3 171.5,377.8 172.5,377.1 173.5,376.5 174.5,375.8 175.5,375.2 176.5,374.5 177.5,373.8 178.5,373.1 179.5,372.3 180.5,371.6 181.5,370.9 182.5,370.2 183.5,369.6 184.5,368.9 185.5,368.3 186.5,367.6 187.5,367.0 188.5,366.4 189.5,365.8 190.5,365.2 191.5,364.6 192.5,364.0 193.5,363.4 194.5,362.8 195.5,362.2 196.5,361.5 197.5,360.8 198.5,360.1 199.5,359.3 200.5,358.4 201.5,357.5 202.5,356.4 203.5,355.3 204.5,354.1 205.5,352.8 206.5,351.3 207.5,349.8 208.5,348.1 209.5,346.4 210.5,344.5 211.5,342.6 212.5,340.5 213.5,338.3 214.5,336.1 215.5,333.8 216.5,331.5 217.5,329.2 218.5,326.8 219.5,324.4 220.5,322.1 221.5,319.8 222.5,317.6 223.5,315.5 224.5,313.5 225.5,311.6 226.5,309.9 227.5,308.3 228.5,306.9 229.5,305.8 230.5,304.8 231.5,304.0 232.5,303.5 233.5,303.1 234.5,303.0 235.5,303.0 236.5,303.3 237.5,303.7 238.5,304.3 239.5,305.0 240.5,305.9 241.5,306.8 242.5,307.8 243.5,308.9 244.5,310.1 245.5,311.2 246.5,312.3 247.5,313.4 248.5,314.5 249.5,315.5 250.5,316.4 251.5,317.3 252.5,318.0 253.5,318.7 254.5,319.3 255.5,319.8 256.5,320.2 257.5,320.5 258.5,320.8 259.5,321.0 260.5,321.2 261.5,321.3 262.5,321.5 263.5,321.7 264.5,321.9 265.5,322.1 266.5,322.4 267.5,322.8 268.5,323.3 269.5,323.8 270.5,324.5 271.5,325.3 272.5,326.2 273.5,327.3 274.5,328.5 275.5,329.8 276.5,331.2 277.5,332.7 278.5,334.4 279.5,336.2 280.5,338.0 281.5,339.9 282.5,341.9 283.5,344.0 284.5,346.1 285.5,348.2 286.5,350.3 287.5,352.4 288.5,354.5 289.5,356.6 290.5,358.6 291.5,360.6 292.5,362.5 293.5,364.4 294.5,366.1 295.5,367.8 296.5,369.4 297.5,370.9 298.5,372.3 299.5,373.5 300.5,374.7 301.5,375.8 302.5,376.7 303.5,377.5 304.5,378.3 305.5,378.9 306.5,379.4 307.5,379.7 308.5,380.0 309.5,380.2 310.5,380.3 311.5,380.3 312.5,380.1 313.5,379.9 314.5,379.7 315.5,379.3 316.5,378.9 317.5,378.4 318.5,377.8 319.5,377.2 320.5,376.5 321.5,375.8 322.5,375.1 323.5,374.3 324.5,373.5 325.5,372.7 326.5,372.0 327.5,371.2 328.5,370.4 329.5,369.7 330.5,369.1 331.5,368.4 332.5,367.8 333.5,367.3 334.5,366.8 335.5,366.4 336.5,366.1 337.5,365.9 338.5,365.7 339.5,365.6 340.5,365.5 341.5,365.6 342.5,365.7 343.5,365.8 344.5,366.0 345.5,366.3 346.5,366.6 347.5,367.0 348.5,367.4 349.5,367.8 350.5,368.2 351.5,368.6 352.5,369.0 353.5,369.3 354.5,369.7 355.5,370.0 356.5,370.3 357.5,370.5 358.5,370.7 359.5,370.9 360.5,370.9 361.5,371.0 362.5,371.0 363.5,370.9 364.5,370.7 365.5,370.6 366.5,370.3 367.5,370.1 368.5,369.8 369.5,369.5 370.5,369.2 371.5,368.8 372.5,368.5 373.5,368.2 374.5,367.9 375.5,367.6 376.5,367.4 377.5,367.2 378.5,367.1 379.5,367.0 380.5,367.0 381.5,367.0 382.5,367.1 383.5,367.3 384.5,367.5 385.5,367.9 386.5,368.2 387.5,368.7 388.5,369.2 389.5,369.7 390.5,370.4 391.5,371.0 392.5,371.7 393.5,372.5 394.5,373.2 395.5,374.0 396.5,374.8 397.5,375.6 398.5,376.4 399.5,377.2 400.5,378.0 401.5,378.8 402.5,379.6 403.5,380.3 404.5,381.0 405.5,381.7 406.5,382.3 407.5,382.9 408.5,383.5 409.5,384.1 410.5,384.6 411.5,385.0 412.5,385.5 413.5,385.8 414.5,386.2 415.5,386.5 416.5,386.8 417.5,387.1 418.5,387.3 419.5,387.5 420.5,387.7 421.5,387.9 422.5,388.0 423.5,388.2 424.5,388.3 425.5,388.4 426.5,388.5 427.5,388.5 428.5,388.6 429.5,388.6 430.5,388.7 431.5,388.7" fill="none" stroke="#f090a8" stroke-width="1.8" opacity="0.3"/>
<path d="M32.3 388.9L33.1 388.9M34.0 388.9L34.9 388.9M35.8 388.9L36.6 388.9M37.5 388.9L38.4 388.9M39.3 388.9L40.1 388.9M41.0 388.9L41.9 388.9M42.8 388.9L43.6 388.9M44.5 388.9L45.4 388.9M46.3 388.9L47.1 388.9M48.0 388.9L48.9 388.9M49.8 388.9L50.6 388.9M51.5 388.9L52.4 388.9M53.3 388.9L54.1 388.9M55.0 388.9L55.9 388.9M56.8 388.9L57.6 388.9M58.5 388.9L59.4 388.9M60.3 388.9L61.1 388.8M62.0 388.8L62.9 388.8M63.8 388.8L64.6 388.8M65.5 388.8L66.4 388.8M67.3 388.7L68.1 388.7M69.0 388.7L69.9 388.7M70.8 388.6L71.6 388.6M72.5 388.6L73.4 388.5M74.3 388.5L75.1 388.5M76.0 388.4L76.9 388.3M77.8 388.3L78.6 388.2M79.5 388.2L80.4 388.1M81.3 388.0L82.1 387.9M83.0 387.9L83.9 387.8M84.8 387.7L85.6 387.6M86.5 387.5L87.4 387.4M88.3 387.3L89.1 387.2M90.0 387.1L90.9 387.0M91.8 386.9L92.6 386.8M93.5 386.6L94.4 386.5M95.3 386.4L96.1 386.3M97.0 386.2L97.9 386.1M98.8 386.0L99.6 385.9M100.5 385.7L101.4 385.6M102.3 385.5L103.1 385.4M104.0 385.3L104.9 385.2M105.8 385.1L106.6 385.0M107.5 384.9L108.4 384.8M109.3 384.7L110.1 384.6M111.0 384.5L111.9 384.4M112.8 384.3L113.6 384.2M114.5 384.1L115.4 384.0M116.3 383.8L117.1 383.7M118.0 383.6L118.9 383.5M119.8 383.4L120.6 383.3M121.5 383.2L122.4 383.0M123.3 382.9L124.1 382.8M125.0 382.7L125.9 382.6M126.8 382.5L127.6 382.4M128.6 382.3L129.4 382.2M130.3 382.1L131.2 382.0M132.1 381.9L132.9 381.9M133.8 381.8L134.7 381.8M135.6 381.7L136.4 381.7M137.3 381.7L138.2 381.7M139.1 381.7L139.9 381.7M140.8 381.7L141.7 381.7M142.6 381.8L143.4 381.8M144.3 381.9L145.2 381.9M146.1 382.0L146.9 382.1M147.8 382.2L148.7 382.2M149.6 382.3L150.4 382.4M151.3 382.4L152.2 382.5M153.1 382.5L153.9 382.5M154.8 382.5L155.7 382.5M156.6 382.5L157.4 382.5M158.3 382.4L159.2 382.3M160.1 382.2L160.9 382.0M161.8 381.8L162.7 381.6M163.6 381.4L164.4 381.1M165.3 380.8L166.2 380.5M167.1 380.1L167.9 379.7M168.8 379.3L169.7 378.8M170.6 378.3L171.4 377.8M172.3 377.3L173.2 376.7M174.1 376.1L174.9 375.6M175.8 375.0L176.7 374.4M177.6 373.7L178.4 373.1M179.3 372.5L180.2 371.9M181.1 371.3L181.9 370.7M182.8 370.0L183.7 369.5M184.6 368.9L185.4 368.3M186.3 367.7L187.2 367.2M188.1 366.7L188.9 366.2M189.8 365.6L190.7 365.1M191.6 364.6L192.4 364.1M193.3 363.6L194.2 363.0M195.1 362.5L195.9 361.9M196.8 361.3L197.7 360.7M198.6 360.0L199.4 359.4M200.3 358.6L201.2 357.8M202.1 356.9L202.9 356.0M203.8 354.9L204.7 353.9M205.6 352.7L206.4 351.5M207.3 350.1L208.2 348.7M209.1 347.2L209.9 345.7M210.8 343.9L211.7 342.3M212.6 340.4L213.4 338.6M214.3 336.6L215.2 334.6M216.1 332.6L216.9 330.6M217.8 328.4L218.7 326.4M219.6 324.3L220.4 322.3M221.3 320.3L222.2 318.4M223.1 316.4L223.9 314.7M224.8 312.9L225.7 311.3M226.6 309.8L227.4 308.5M228.3 307.2L229.2 306.2M230.1 305.2L230.9 304.5M231.8 303.8L232.7 303.4M233.6 303.1L234.4 303.0M235.3 303.0L236.2 303.2M237.1 303.5L237.9 303.9M238.8 304.5L239.7 305.1M240.6 305.9L241.4 306.7M242.3 307.6L243.2 308.5M244.1 309.5L244.9 310.5M245.8 311.5L246.7 312.5M247.6 313.5L248.4 314.4M249.3 315.3L250.2 316.1M251.1 316.9L251.9 317.6M252.8 318.2L253.7 318.8M254.6 319.3L255.4 319.7M256.3 320.1L257.2 320.4M258.1 320.7L258.9 320.9M259.8 321.1L260.7 321.2M261.6 321.3L262.4 321.5M263.3 321.6L264.2 321.8M265.1 322.0L265.9 322.2M266.8 322.5L267.7 322.8M268.6 323.3L269.4 323.8M270.3 324.4L271.2 325.0M272.1 325.8L272.9 326.6M273.8 327.6L274.7 328.7M275.6 329.8L276.4 331.1M277.3 332.4L278.2 333.8M279.1 335.4L279.9 336.9M280.8 338.6L281.7 340.2M282.6 342.0L283.4 343.8M284.3 345.6L285.2 347.4M286.1 349.3L286.9 351.1M287.8 353.0L288.7 354.8M289.6 356.7L290.4 358.4M291.3 360.2L292.2 361.9M293.1 363.5L293.9 365.1M294.8 366.6L295.7 368.1M296.6 369.5L297.4 370.7M298.3 372.0L299.2 373.1M300.1 374.2L300.9 375.1M301.8 376.1L302.7 376.8M303.6 377.6L304.4 378.2M305.3 378.8L306.2 379.2M307.1 379.6L307.9 379.9M308.8 380.1L309.7 380.2M310.6 380.3L311.4 380.3M312.3 380.2L313.2 380.0M314.1 379.8L314.9 379.5M315.8 379.2L316.7 378.8M317.6 378.3L318.4 377.8M319.3 377.3L320.2 376.7M321.1 376.1L321.9 375.5M322.8 374.8L323.7 374.2M324.6 373.5L325.4 372.8M326.3 372.1L327.2 371.5M328.1 370.8L328.9 370.2M329.8 369.5L330.7 369.0M331.6 368.4L332.4 367.9M333.3 367.4L334.2 367.0M335.1 366.6L335.9 366.3M336.8 366.0L337.7 365.8M338.6 365.7L339.4 365.6M340.3 365.5L341.2 365.5M342.1 365.6L342.9 365.7M343.8 365.9L344.7 366.1M345.6 366.3L346.4 366.6M347.3 366.9L348.2 367.2M349.1 367.6L349.9 367.9M350.8 368.3L351.7 368.6M352.6 369.0L353.4 369.3M354.3 369.6L355.2 369.9M356.1 370.2L356.9 370.4M357.8 370.6L358.7 370.7M359.6 370.9L360.4 370.9M361.3 371.0L362.2 371.0M363.1 370.9L363.9 370.8M364.8 370.7L365.7 370.5M366.6 370.3L367.4 370.1M368.3 369.9L369.2 369.6M370.1 369.3L370.9 369.0M371.8 368.8L372.7 368.5M373.6 368.2L374.4 367.9M375.3 367.7L376.2 367.5M377.1 367.3L377.9 367.2M378.8 367.1L379.7 367.0M380.6 367.0L381.4 367.0M382.3 367.1L383.2 367.2M384.1 367.4L384.9 367.7M385.8 368.0L386.7 368.3M387.6 368.7L388.4 369.1M389.3 369.6L390.2 370.1M391.1 370.7L391.9 371.3M392.8 371.9L393.7 372.6M394.6 373.3L395.4 373.9M396.3 374.6L397.2 375.3M398.1 376.1L398.9 376.7M399.8 377.5L400.7 378.1M401.6 378.8L402.4 379.5M403.3 380.2L404.2 380.8M405.1 381.4L405.9 381.9M406.8 382.5L407.7 383.0M408.6 383.5L409.4 384.0M410.3 384.5L411.2 384.9M412.1 385.3L412.9 385.6M413.8 386.0L414.7 386.3M415.6 386.5L416.4 386.8M417.3 387.0L418.2 387.2M419.1 387.4L419.9 387.6M420.8 387.8L421.7 387.9M422.6 388.0L423.4 388.2M424.3 388.3L425.2 388.3M426.1 388.4L426.9 388.5M427.8 388.5L428.7 388.6M429.6 388.6L430.4 388.7M431.3 388.7L432.2 388.7M433.1 388.8L433.9 388.8M434.8 388.8L435.7 388.8M436.6 388.8L437.4 388.8M438.3 388.9L439.2 388.9M440.1 388.9L440.9 388.9M441.8 388.9L442.7 388.9M443.6 388.9L444.4 388.9M445.3 388.9L446.2 388.9M447.1 388.9L447.9 388.9M448.8 388.9L449.7 388.9M450.6 388.9L451.4 388.9M452.3 388.9L453.2 388.9M454.1 388.9L454.9 388.9M455.8 388.9L456.7 388.9M457.6 388.9L458.4 388.9M459.3 388.9L460.2 388.9M461.1 388.9L461.9 388.9M462.8 388.9L463.7 388.9M464.6 388.9L465.4 388.9M466.3 388.9L467.2 388.9M468.1 388.9L468.9 388.9M469.8 388.9L470.7 388.9M471.6 388.9L472.4 388.9M473.3 388.9L474.2 388.9M475.1 388.9L475.9 388.9M476.8 388.9L477.7 388.9M478.6 388.9L479.4 388.9M480.3 388.9L481.2 388.9M482.1 388.9L482.9 388.9M483.8 388.9L484.7 388.9M485.6 388.9L486.4 388.9M487.3 388.9L488.2 388.9M489.1 388.9L489.9 388.9M490.8 388.9L491.7 388.9M492.6 388.9L493.4 388.9M494.3 388.9L495.2 388.9M496.1 388.9L496.9 388.9M497.8 388.9L498.7 388.9" fill="none" stroke="#d84468" stroke-width="1.0" opacity="0.65"/>
<path d="M98.5 388.7 99.0 388.6 99.5 388.5 100.0 388.4 100.5 388.2 101.0 388.0 101.5 387.8 102.0 387.6 102.5 387.4 103.0 387.2 103.5 387.0 104.0 386.9 104.5 386.7 105.0 386.6 105.5 386.6 106.0 386.6 106.5 386.7 107.0 386.8 107.5 387.0 108.0 387.1 108.5 387.3 109.0 387.5 109.5 387.8 110.0 388.0 110.5 388.1 111.0 388.3 111.5 388.4 112.0 388.5 112.5 388.6 113.0 388.7M124.5 388.7 125.0 388.6 125.5 388.5 126.0 388.3 126.5 388.2 127.0 388.0 127.5 387.8 128.0 387.6 128.5 387.4 129.0 387.2 129.5 387.0 130.0 386.8 130.5 386.7 131.0 386.6 131.5 386.6 132.0 386.6 132.5 386.7 133.0 386.8 133.5 387.0 134.0 387.2 134.5 387.3 135.0 387.5 135.5 387.7 136.0 387.9 136.5 388.0 137.0 388.1 137.5 388.1 138.0 388.1 138.5 388.1 139.0 387.9 139.5 387.7 140.0 387.5 140.5 387.2 141.0 386.9 141.5 386.6 142.0 386.3 142.5 385.9 143.0 385.7 143.5 385.4 144.0 385.3 144.5 385.2 145.0 385.2 145.5 385.2 146.0 385.4 146.5 385.6 147.0 385.9 147.5 386.2 148.0 386.6 148.5 386.9 149.0 387.2 149.5 387.5 150.0 387.8 150.5 388.1 151.0 388.3 151.5 388.4 152.0 388.6 152.5 388.7M179.5 388.7 180.0 388.6 180.5 388.4 181.0 388.1 181.5 387.8 182.0 387.4 182.5 386.8 183.0 386.1 183.5 385.3 184.0 384.3 184.5 383.2 185.0 382.0 185.5 380.7 186.0 379.4 186.5 378.1 187.0 376.9 187.5 375.9 188.0 375.1 188.5 374.7 189.0 374.5 189.5 374.7 190.0 375.1 190.5 375.9 191.0 376.9 191.5 378.1 192.0 379.4 192.5 380.7 193.0 382.0 193.5 383.2 194.0 384.3 194.5 385.3 195.0 386.1 195.5 386.8 196.0 387.4 196.5 387.8 197.0 388.1 197.5 388.4 198.0 388.5 198.5 388.6 199.0 388.7M200.0 388.7 200.5 388.6 201.0 388.5 201.5 388.3 202.0 388.0 202.5 387.6 203.0 387.1 203.5 386.4 204.0 385.6 204.5 384.6 205.0 383.4 205.5 382.1 206.0 380.6 206.5 379.0 207.0 377.5 207.5 375.9 208.0 374.5 208.5 373.3 209.0 372.4 209.5 371.8 210.0 371.6 210.5 371.8 211.0 372.4 211.5 373.3 212.0 374.5 212.5 375.9 213.0 377.5 213.5 379.0 214.0 380.6 214.5 382.1 215.0 383.4 215.5 384.6 216.0 385.6 216.5 386.4 217.0 387.1 217.5 387.6 218.0 388.0 218.5 388.3 219.0 388.5 219.5 388.6 220.0 388.7M222.0 388.7 222.5 388.6 223.0 388.4 223.5 388.2 224.0 387.8 224.5 387.2 225.0 386.4 225.5 385.3 226.0 383.8 226.5 381.8 227.0 379.4 227.5 376.3 228.0 372.7 228.5 368.4 229.0 363.7 229.5 358.5 230.0 353.1 230.5 347.7 231.0 342.6 231.5 338.0 232.0 334.3 232.5 331.5 233.0 330.0 233.5 329.8 234.0 330.9 234.5 333.2 235.0 336.4 235.5 340.5 236.0 345.0 236.5 349.6 237.0 354.1 237.5 358.2 238.0 361.7 238.5 364.5 239.0 366.5 239.5 367.9 240.0 368.7 240.5 369.0 241.0 369.1 241.5 369.2 242.0 369.3 242.5 369.7 243.0 370.4 243.5 371.4 244.0 372.7 244.5 374.3 245.0 376.1 245.5 377.9 246.0 379.8 246.5 381.5 247.0 383.0 247.5 384.4 248.0 385.5 248.5 386.5 249.0 387.2 249.5 387.7 250.0 388.1 250.5 388.4 251.0 388.6 251.5 388.7M257.5 388.7 258.0 388.5 258.5 388.3 259.0 388.0 259.5 387.6 260.0 386.9 260.5 386.0 261.0 384.8 261.5 383.2 262.0 381.2 262.5 378.7 263.0 375.7 263.5 372.1 264.0 368.1 264.5 363.8 265.0 359.2 265.5 354.6 266.0 350.1 266.5 346.1 267.0 342.7 267.5 340.2 268.0 338.8 268.5 338.4 269.0 339.2 269.5 341.1 270.0 344.0 270.5 347.6 271.0 351.8 271.5 356.3 272.0 360.8 272.5 365.3 273.0 369.3 273.5 373.0 274.0 376.1 274.5 378.6 275.0 380.6 275.5 382.0 276.0 382.8 276.5 383.3 277.0 383.4 277.5 383.2 278.0 382.8 278.5 382.2 279.0 381.5 279.5 380.9 280.0 380.2 280.5 379.7 281.0 379.2 281.5 379.0 282.0 378.9 282.5 379.0 283.0 379.3 283.5 379.7 284.0 380.3 284.5 381.0 285.0 381.8 285.5 382.7 286.0 383.5 286.5 384.3 287.0 385.1 287.5 385.8 288.0 386.4 288.5 386.9 289.0 387.4 289.5 387.8 290.0 388.1 290.5 388.3 291.0 388.5 291.5 388.6 292.0 388.7M319.5 388.7 320.0 388.6 320.5 388.5 321.0 388.4 321.5 388.3 322.0 388.2 322.5 388.1 323.0 388.1 323.5 388.0 324.0 387.9 324.5 387.9 325.0 387.9 325.5 387.9 326.0 387.9 326.5 388.0 327.0 388.0 327.5 388.1 328.0 388.2 328.5 388.2 329.0 388.2 329.5 388.2 330.0 388.1 330.5 388.0 331.0 387.7 331.5 387.3 332.0 386.7 332.5 386.0 333.0 385.0 333.5 383.8 334.0 382.4 334.5 380.7 335.0 378.9 335.5 376.9 336.0 374.8 336.5 372.8 337.0 370.9 337.5 369.2 338.0 367.8 338.5 366.9 339.0 366.4 339.5 366.5 340.0 367.1 340.5 368.1 341.0 369.5 341.5 371.3 342.0 373.2 342.5 375.3 343.0 377.3 343.5 379.3 344.0 381.1 344.5 382.7 345.0 384.1 345.5 385.3 346.0 386.2 346.5 387.0 347.0 387.5 347.5 387.9 348.0 388.3 348.5 388.5 349.0 388.6 349.5 388.7M372.0 388.7 372.5 388.6 373.0 388.4 373.5 388.1 374.0 387.8 374.5 387.3 375.0 386.7 375.5 385.9 376.0 384.9 376.5 383.7 377.0 382.3 377.5 380.7 378.0 378.9 378.5 377.0 379.0 375.1 379.5 373.3 380.0 371.6 380.5 370.1 381.0 369.0 381.5 368.3 382.0 368.1 382.5 368.3 383.0 369.0 383.5 370.1 384.0 371.6 384.5 373.3 385.0 375.1 385.5 377.0 386.0 378.9 386.5 380.7 387.0 382.3 387.5 383.7 388.0 384.9 388.5 385.9 389.0 386.7 389.5 387.3 390.0 387.8 390.5 388.1 391.0 388.4 391.5 388.6 392.0 388.7" fill="none" stroke="#111" stroke-width="1.7" stroke-linejoin="round"/>
<g stroke="#1c1c1c" fill="none">
<path d="M31.5 28.9V389.7M499.4 28.9V389.7" stroke-width="1.9"/>
<path d="M31.5 29.7H499.4" stroke-width="1.5"/>
<path d="M31.5 388.9H499.4" stroke-width="1.7"/>
<line x1="31.5" x2="499.4" y1="149.4" y2="149.4" stroke-width="1.2"/>
<line x1="31.5" x2="499.4" y1="269.1" y2="269.1" stroke-width="1.2"/>
<line x1="31.5" x2="31.5" y1="29.7" y2="22.5" stroke-width="1.3"/>
<line x1="31.5" x2="31.5" y1="388.9" y2="396.1" stroke-width="1.3"/>
<line x1="90.0" x2="90.0" y1="29.7" y2="25.9" stroke-width="1.3"/>
<line x1="90.0" x2="90.0" y1="388.9" y2="392.7" stroke-width="1.3"/>
<line x1="90.0" x2="90.0" y1="149.4" y2="153.1" stroke-width="1.2"/>
<line x1="90.0" x2="90.0" y1="269.1" y2="272.8" stroke-width="1.2"/>
<line x1="148.5" x2="148.5" y1="29.7" y2="22.5" stroke-width="1.3"/>
<line x1="148.5" x2="148.5" y1="388.9" y2="396.1" stroke-width="1.3"/>
<line x1="148.5" x2="148.5" y1="149.4" y2="155.4" stroke-width="1.2"/>
<line x1="148.5" x2="148.5" y1="269.1" y2="275.1" stroke-width="1.2"/>
<line x1="207.0" x2="207.0" y1="29.7" y2="25.9" stroke-width="1.3"/>
<line x1="207.0" x2="207.0" y1="388.9" y2="392.7" stroke-width="1.3"/>
<line x1="207.0" x2="207.0" y1="149.4" y2="153.1" stroke-width="1.2"/>
<line x1="207.0" x2="207.0" y1="269.1" y2="272.8" stroke-width="1.2"/>
<line x1="265.4" x2="265.4" y1="29.7" y2="22.5" stroke-width="1.3"/>
<line x1="265.4" x2="265.4" y1="388.9" y2="396.1" stroke-width="1.3"/>
<line x1="265.4" x2="265.4" y1="149.4" y2="155.4" stroke-width="1.2"/>
<line x1="265.4" x2="265.4" y1="269.1" y2="275.1" stroke-width="1.2"/>
<line x1="323.9" x2="323.9" y1="29.7" y2="25.9" stroke-width="1.3"/>
<line x1="323.9" x2="323.9" y1="388.9" y2="392.7" stroke-width="1.3"/>
<line x1="323.9" x2="323.9" y1="149.4" y2="153.1" stroke-width="1.2"/>
<line x1="323.9" x2="323.9" y1="269.1" y2="272.8" stroke-width="1.2"/>
<line x1="382.4" x2="382.4" y1="29.7" y2="22.5" stroke-width="1.3"/>
<line x1="382.4" x2="382.4" y1="388.9" y2="396.1" stroke-width="1.3"/>
<line x1="382.4" x2="382.4" y1="149.4" y2="155.4" stroke-width="1.2"/>
<line x1="382.4" x2="382.4" y1="269.1" y2="275.1" stroke-width="1.2"/>
<line x1="440.9" x2="440.9" y1="29.7" y2="25.9" stroke-width="1.3"/>
<line x1="440.9" x2="440.9" y1="388.9" y2="392.7" stroke-width="1.3"/>
<line x1="440.9" x2="440.9" y1="149.4" y2="153.1" stroke-width="1.2"/>
<line x1="440.9" x2="440.9" y1="269.1" y2="272.8" stroke-width="1.2"/>
<line x1="499.4" x2="499.4" y1="29.7" y2="22.5" stroke-width="1.3"/>
<line x1="499.4" x2="499.4" y1="388.9" y2="396.1" stroke-width="1.3"/>
</g>
<g font-family="'Liberation Serif', serif" font-size="21" fill="#111" stroke="#111" stroke-width="0.2" text-anchor="middle">
<text transform="translate(31.5 14.5) scale(0.975 1)">1000</text>
<text transform="translate(31.5 416.9) scale(0.975 1)">1000</text>
<text transform="translate(148.5 14.5) scale(0.975 1)">1200</text>
<text transform="translate(148.5 416.9) scale(0.975 1)">1200</text>
<text transform="translate(265.4 14.5) scale(0.975 1)">1400</text>
<text transform="translate(265.4 416.9) scale(0.975 1)">1400</text>
<text transform="translate(382.4 14.5) scale(0.975 1)">1600</text>
<text transform="translate(382.4 416.9) scale(0.975 1)">1600</text>
<text transform="translate(499.4 14.5) scale(0.975 1)">1800</text>
<text transform="translate(499.4 416.9) scale(0.975 1)">1800</text>
</g>
<g font-family="'Liberation Serif', serif" font-weight="bold" fill="#111">
<text transform="translate(273.7 441.7) scale(1.085 1)" font-size="20" stroke="#111" stroke-width="0.25" text-anchor="middle">Frequency (cm<tspan font-size="12.5" dy="-8">-1</tspan><tspan dy="8">)</tspan></text>
<text transform="translate(17.3 203.2) rotate(-90) scale(1.06 1)" font-size="20.8" stroke="#111" stroke-width="0.25" text-anchor="middle">Raman Intensity (arb. unit)</text>
<text transform="translate(494.6 54.3) scale(1.11 1)" font-size="18.3" text-anchor="end" stroke="#111" stroke-width="0.3">eh<tspan font-size="12.5" dy="5">2</tspan><tspan dy="-5">e chain</tspan></text>
<text transform="translate(495 176.9) scale(1.11 1)" font-size="18.3" text-anchor="end" stroke="#111" stroke-width="0.3">e<tspan font-size="12.5" dy="5">2</tspan><tspan font-size="13" dy="-11.9">II</tspan><tspan dy="6.9" dx="-0.8"> h</tspan><tspan font-size="12.5" dy="5">2</tspan><tspan dy="-5"> chain</tspan></text>
<text transform="translate(495 295.8) scale(1.11 1)" font-size="18.3" text-anchor="end" stroke="#111" stroke-width="0.3">e<tspan font-size="12.5" dy="5">2</tspan><tspan font-size="13" dy="-11.9">I</tspan><tspan dy="6.9" dx="-2.0"> h</tspan><tspan font-size="12.5" dy="5">2</tspan><tspan dy="-5"> chain</tspan></text>
</g>
</svg>
</body></html>
